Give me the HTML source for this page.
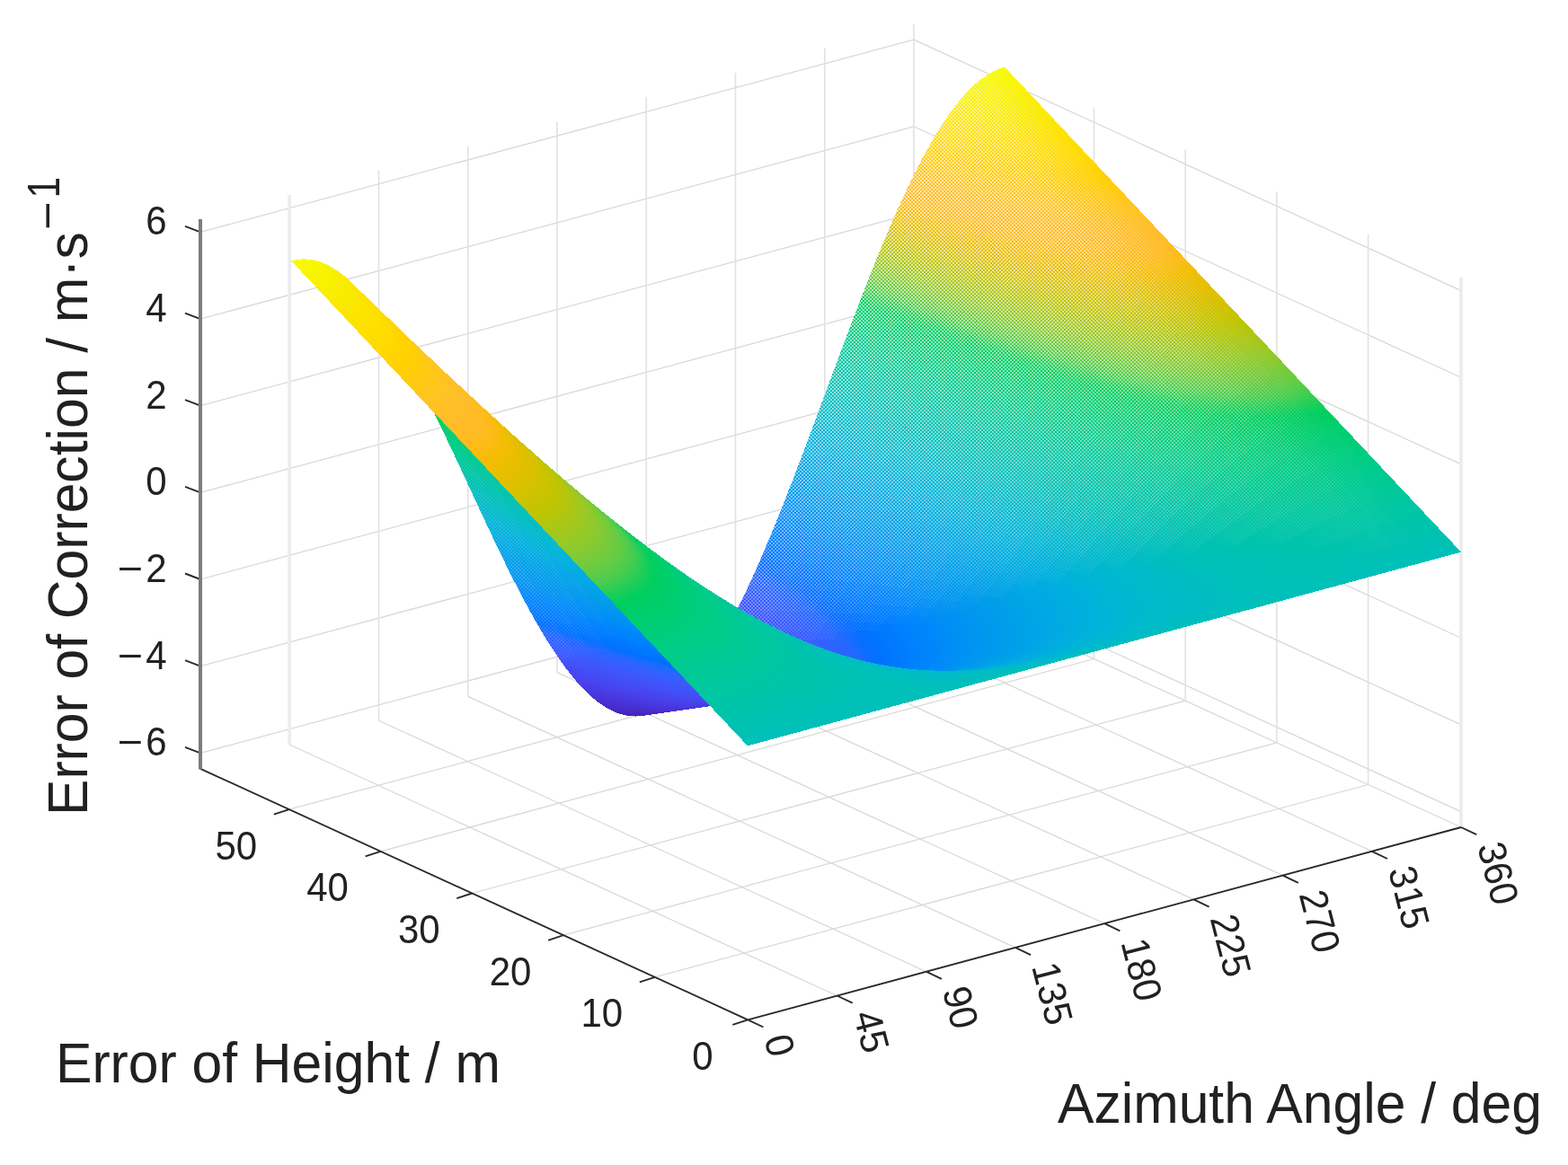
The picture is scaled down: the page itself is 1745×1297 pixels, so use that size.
<!DOCTYPE html><html><head><meta charset="utf-8"><title>Error of Correction</title><style>html,body{margin:0;padding:0;background:#fff;overflow:hidden}svg{display:block}</style></head><body><svg width="1745" height="1297" viewBox="0 0 1745 1297"><rect width="1745" height="1297" fill="#fff"/><path d="M931.5,1108.5L322.2,829.0M1030.7,1081.7L421.5,802.2M1129.9,1054.9L520.8,775.4M1229.2,1028.2L620.0,748.6M1328.4,1001.4L719.2,721.9M1427.6,974.6L818.5,695.1M1526.8,947.8L917.8,668.3M1626.0,921.0L1017.0,641.5M728.8,1087.8L1522.6,873.5M627.1,1041.2L1420.9,826.9M525.3,994.5L1319.2,780.2M423.6,947.8L1217.5,733.5M321.8,901.1L1115.8,686.8M223.0,838.4L1017.0,624.1M223.0,741.7L1017.0,527.4M223.0,645.0L1017.0,430.7M223.0,548.4L1017.0,334.1M223.0,451.7L1017.0,237.4M223.0,355.1L1017.0,140.8M223.0,258.4L1017.0,44.1M1017.0,624.1L1626.0,903.6M1017.0,527.4L1626.0,806.9M1017.0,430.7L1626.0,710.2M1017.0,334.1L1626.0,613.6M1017.0,237.4L1626.0,516.9M1017.0,140.8L1626.0,420.3M1017.0,44.1L1626.0,323.6" fill="none" stroke="#d8d8d8" stroke-width="1.25"/><path d="M421.5,802.2L421.5,189.8M520.8,775.4L520.8,162.6M620.0,748.6L620.0,135.4M719.2,721.9L719.2,108.2M818.5,695.1L818.5,81.1M917.8,668.3L917.8,53.9M1017.0,641.5L1017.0,26.7M1522.6,873.5L1522.6,260.7M1420.9,826.9L1420.9,213.6M1319.2,780.2L1319.2,166.5M1217.5,733.5L1217.5,119.5M1115.8,686.8L1115.8,76.4" fill="none" stroke="#e2e2e2" stroke-width="1.6"/><path d="M322.2,829.0L322.2,216.9M1626.0,921.0L1626.0,308.5" fill="none" stroke="#ececec" stroke-width="3.6"/><defs><linearGradient id="m"><stop offset="0.0000" stop-color="#4321ad"/><stop offset="0.0104" stop-color="#4424b5"/><stop offset="0.0208" stop-color="#4527bd"/><stop offset="0.0312" stop-color="#462ac4"/><stop offset="0.0417" stop-color="#472dcb"/><stop offset="0.0521" stop-color="#4830d3"/><stop offset="0.0625" stop-color="#4833da"/><stop offset="0.0729" stop-color="#4837df"/><stop offset="0.0833" stop-color="#483be5"/><stop offset="0.0938" stop-color="#483fe9"/><stop offset="0.1042" stop-color="#4743ed"/><stop offset="0.1146" stop-color="#4647f1"/><stop offset="0.1250" stop-color="#444bf4"/><stop offset="0.1354" stop-color="#424ff7"/><stop offset="0.1458" stop-color="#4053f9"/><stop offset="0.1562" stop-color="#3e56fc"/><stop offset="0.1667" stop-color="#3a5afe"/><stop offset="0.1771" stop-color="#365eff"/><stop offset="0.1875" stop-color="#3162ff"/><stop offset="0.1979" stop-color="#2966ff"/><stop offset="0.2083" stop-color="#1f6aff"/><stop offset="0.2188" stop-color="#086eff"/><stop offset="0.2292" stop-color="#0072ff"/><stop offset="0.2396" stop-color="#0077ff"/><stop offset="0.2500" stop-color="#007bff"/><stop offset="0.2604" stop-color="#007fff"/><stop offset="0.2708" stop-color="#0083fd"/><stop offset="0.2812" stop-color="#0086fb"/><stop offset="0.2917" stop-color="#008af9"/><stop offset="0.3021" stop-color="#008ef6"/><stop offset="0.3125" stop-color="#0091f3"/><stop offset="0.3229" stop-color="#0095f1"/><stop offset="0.3333" stop-color="#0098ee"/><stop offset="0.3438" stop-color="#009bec"/><stop offset="0.3542" stop-color="#009eea"/><stop offset="0.3646" stop-color="#00a1e8"/><stop offset="0.3750" stop-color="#00a4e6"/><stop offset="0.3854" stop-color="#00a7e5"/><stop offset="0.3958" stop-color="#00aae2"/><stop offset="0.4062" stop-color="#00ade0"/><stop offset="0.4167" stop-color="#00b0dd"/><stop offset="0.4271" stop-color="#00b2d9"/><stop offset="0.4375" stop-color="#00b5d5"/><stop offset="0.4479" stop-color="#00b7d1"/><stop offset="0.4583" stop-color="#00b9cd"/><stop offset="0.4688" stop-color="#00bbc8"/><stop offset="0.4792" stop-color="#00bcc4"/><stop offset="0.4896" stop-color="#00bebf"/><stop offset="0.5000" stop-color="#00c0ba"/><stop offset="0.5104" stop-color="#00c1b5"/><stop offset="0.5208" stop-color="#00c2b1"/><stop offset="0.5312" stop-color="#00c4ab"/><stop offset="0.5417" stop-color="#00c5a6"/><stop offset="0.5521" stop-color="#00c7a1"/><stop offset="0.5625" stop-color="#00c89b"/><stop offset="0.5729" stop-color="#00c995"/><stop offset="0.5833" stop-color="#00cb8e"/><stop offset="0.5938" stop-color="#00cc88"/><stop offset="0.6042" stop-color="#00cd80"/><stop offset="0.6146" stop-color="#00cd79"/><stop offset="0.6250" stop-color="#00ce71"/><stop offset="0.6354" stop-color="#00ce69"/><stop offset="0.6458" stop-color="#00ce60"/><stop offset="0.6562" stop-color="#22ce57"/><stop offset="0.6667" stop-color="#49cd4e"/><stop offset="0.6771" stop-color="#62cc45"/><stop offset="0.6875" stop-color="#76cb3b"/><stop offset="0.6979" stop-color="#88ca30"/><stop offset="0.7083" stop-color="#98c926"/><stop offset="0.7188" stop-color="#a6c71a"/><stop offset="0.7292" stop-color="#b4c60c"/><stop offset="0.7396" stop-color="#c1c400"/><stop offset="0.7500" stop-color="#ccc300"/><stop offset="0.7604" stop-color="#d7c100"/><stop offset="0.7708" stop-color="#e1bf00"/><stop offset="0.7812" stop-color="#ebbe00"/><stop offset="0.7917" stop-color="#f4bd03"/><stop offset="0.8021" stop-color="#fcbc14"/><stop offset="0.8125" stop-color="#ffbb20"/><stop offset="0.8229" stop-color="#ffbc28"/><stop offset="0.8333" stop-color="#ffbd29"/><stop offset="0.8438" stop-color="#ffc027"/><stop offset="0.8542" stop-color="#ffc421"/><stop offset="0.8646" stop-color="#ffc719"/><stop offset="0.8750" stop-color="#ffcb0f"/><stop offset="0.8854" stop-color="#ffcf02"/><stop offset="0.8958" stop-color="#ffd300"/><stop offset="0.9062" stop-color="#ffd800"/><stop offset="0.9167" stop-color="#ffdc00"/><stop offset="0.9271" stop-color="#ffe000"/><stop offset="0.9375" stop-color="#fce400"/><stop offset="0.9479" stop-color="#fae800"/><stop offset="0.9583" stop-color="#f9ec00"/><stop offset="0.9688" stop-color="#f8f000"/><stop offset="0.9792" stop-color="#f8f300"/><stop offset="0.9896" stop-color="#f8f700"/><stop offset="1.0000" stop-color="#f9fb00"/></linearGradient><linearGradient id="g119" href="#m" xlink:href="#m" gradientUnits="userSpaceOnUse" x1="1588.7" y1="1283.0" x2="1295.3" y2="32.8"/><linearGradient id="g118" href="#m" xlink:href="#m" gradientUnits="userSpaceOnUse" x1="1516.4" y1="1261.1" x2="1310.4" y2="42.0"/><linearGradient id="g117" href="#m" xlink:href="#m" gradientUnits="userSpaceOnUse" x1="1454.9" y1="1236.2" x2="1321.9" y2="51.7"/><linearGradient id="g116" href="#m" xlink:href="#m" gradientUnits="userSpaceOnUse" x1="1402.9" y1="1210.2" x2="1330.4" y2="61.4"/><linearGradient id="g115" href="#m" xlink:href="#m" gradientUnits="userSpaceOnUse" x1="1358.7" y1="1184.6" x2="1336.5" y2="70.7"/><linearGradient id="g114" href="#m" xlink:href="#m" gradientUnits="userSpaceOnUse" x1="1320.9" y1="1160.0" x2="1340.8" y2="79.5"/><linearGradient id="g113" href="#m" xlink:href="#m" gradientUnits="userSpaceOnUse" x1="1288.5" y1="1136.9" x2="1343.6" y2="87.7"/><linearGradient id="g112" href="#m" xlink:href="#m" gradientUnits="userSpaceOnUse" x1="1260.3" y1="1115.4" x2="1345.2" y2="95.2"/><linearGradient id="g111" href="#m" xlink:href="#m" gradientUnits="userSpaceOnUse" x1="1235.7" y1="1095.6" x2="1346.0" y2="102.2"/><linearGradient id="g110" href="#m" xlink:href="#m" gradientUnits="userSpaceOnUse" x1="1214.0" y1="1077.5" x2="1346.2" y2="108.6"/><linearGradient id="g109" href="#m" xlink:href="#m" gradientUnits="userSpaceOnUse" x1="1194.7" y1="1060.9" x2="1345.9" y2="114.6"/><linearGradient id="g108" href="#m" xlink:href="#m" gradientUnits="userSpaceOnUse" x1="1177.3" y1="1045.8" x2="1345.3" y2="120.0"/><linearGradient id="g107" href="#m" xlink:href="#m" gradientUnits="userSpaceOnUse" x1="1161.6" y1="1032.0" x2="1344.4" y2="125.1"/><linearGradient id="g106" href="#m" xlink:href="#m" gradientUnits="userSpaceOnUse" x1="1147.3" y1="1019.4" x2="1343.5" y2="129.9"/><linearGradient id="g105" href="#m" xlink:href="#m" gradientUnits="userSpaceOnUse" x1="1134.2" y1="1007.9" x2="1342.4" y2="134.3"/><linearGradient id="g104" href="#m" xlink:href="#m" gradientUnits="userSpaceOnUse" x1="1122.1" y1="997.5" x2="1341.3" y2="138.5"/><linearGradient id="g103" href="#m" xlink:href="#m" gradientUnits="userSpaceOnUse" x1="1110.9" y1="988.0" x2="1340.3" y2="142.4"/><linearGradient id="g102" href="#m" xlink:href="#m" gradientUnits="userSpaceOnUse" x1="1100.4" y1="979.4" x2="1339.3" y2="146.2"/><linearGradient id="g101" href="#m" xlink:href="#m" gradientUnits="userSpaceOnUse" x1="1090.5" y1="971.6" x2="1338.4" y2="149.7"/><linearGradient id="g100" href="#m" xlink:href="#m" gradientUnits="userSpaceOnUse" x1="1081.3" y1="964.4" x2="1337.7" y2="153.1"/><linearGradient id="g99" href="#m" xlink:href="#m" gradientUnits="userSpaceOnUse" x1="1072.5" y1="958.0" x2="1337.1" y2="156.4"/><linearGradient id="g98" href="#m" xlink:href="#m" gradientUnits="userSpaceOnUse" x1="1064.1" y1="952.1" x2="1336.7" y2="159.5"/><linearGradient id="g97" href="#m" xlink:href="#m" gradientUnits="userSpaceOnUse" x1="1056.1" y1="946.8" x2="1336.5" y2="162.5"/><linearGradient id="g96" href="#m" xlink:href="#m" gradientUnits="userSpaceOnUse" x1="1048.5" y1="942.1" x2="1336.5" y2="165.4"/><linearGradient id="g95" href="#m" xlink:href="#m" gradientUnits="userSpaceOnUse" x1="1041.1" y1="937.8" x2="1336.7" y2="168.2"/><linearGradient id="g94" href="#m" xlink:href="#m" gradientUnits="userSpaceOnUse" x1="1033.9" y1="933.9" x2="1337.2" y2="171.0"/><linearGradient id="g93" href="#m" xlink:href="#m" gradientUnits="userSpaceOnUse" x1="1027.0" y1="930.5" x2="1338.0" y2="173.6"/><linearGradient id="g92" href="#m" xlink:href="#m" gradientUnits="userSpaceOnUse" x1="1020.2" y1="927.4" x2="1339.1" y2="176.2"/><linearGradient id="g91" href="#m" xlink:href="#m" gradientUnits="userSpaceOnUse" x1="1013.5" y1="924.7" x2="1340.5" y2="178.7"/><linearGradient id="g90" href="#m" xlink:href="#m" gradientUnits="userSpaceOnUse" x1="1007.0" y1="922.3" x2="1342.3" y2="181.1"/><linearGradient id="g89" href="#m" xlink:href="#m" gradientUnits="userSpaceOnUse" x1="1000.4" y1="920.3" x2="1344.5" y2="183.5"/><linearGradient id="g88" href="#m" xlink:href="#m" gradientUnits="userSpaceOnUse" x1="993.9" y1="918.5" x2="1347.1" y2="185.8"/><linearGradient id="g87" href="#m" xlink:href="#m" gradientUnits="userSpaceOnUse" x1="987.4" y1="917.0" x2="1350.2" y2="188.0"/><linearGradient id="g86" href="#m" xlink:href="#m" gradientUnits="userSpaceOnUse" x1="980.8" y1="915.7" x2="1353.8" y2="190.2"/><linearGradient id="g85" href="#m" xlink:href="#m" gradientUnits="userSpaceOnUse" x1="974.1" y1="914.7" x2="1358.1" y2="192.3"/><linearGradient id="g84" href="#m" xlink:href="#m" gradientUnits="userSpaceOnUse" x1="967.3" y1="913.9" x2="1363.1" y2="194.4"/><linearGradient id="g83" href="#m" xlink:href="#m" gradientUnits="userSpaceOnUse" x1="960.3" y1="913.2" x2="1368.9" y2="196.5"/><linearGradient id="g82" href="#m" xlink:href="#m" gradientUnits="userSpaceOnUse" x1="953.0" y1="912.7" x2="1375.7" y2="198.5"/><linearGradient id="g81" href="#m" xlink:href="#m" gradientUnits="userSpaceOnUse" x1="945.3" y1="912.4" x2="1383.5" y2="200.6"/><linearGradient id="g80" href="#m" xlink:href="#m" gradientUnits="userSpaceOnUse" x1="937.3" y1="912.1" x2="1392.6" y2="202.8"/><linearGradient id="g79" href="#m" xlink:href="#m" gradientUnits="userSpaceOnUse" x1="928.7" y1="911.8" x2="1403.3" y2="205.1"/><linearGradient id="g78" href="#m" xlink:href="#m" gradientUnits="userSpaceOnUse" x1="919.5" y1="911.6" x2="1415.9" y2="207.7"/><linearGradient id="g77" href="#m" xlink:href="#m" gradientUnits="userSpaceOnUse" x1="909.5" y1="911.2" x2="1430.7" y2="210.8"/><linearGradient id="g76" href="#m" xlink:href="#m" gradientUnits="userSpaceOnUse" x1="898.6" y1="910.6" x2="1448.3" y2="214.7"/><linearGradient id="g75" href="#m" xlink:href="#m" gradientUnits="userSpaceOnUse" x1="886.4" y1="909.6" x2="1469.2" y2="219.9"/><linearGradient id="g74" href="#m" xlink:href="#m" gradientUnits="userSpaceOnUse" x1="872.9" y1="907.9" x2="1494.4" y2="227.0"/><linearGradient id="g73" href="#m" xlink:href="#m" gradientUnits="userSpaceOnUse" x1="857.5" y1="905.0" x2="1524.8" y2="237.3"/><linearGradient id="g72" href="#m" xlink:href="#m" gradientUnits="userSpaceOnUse" x1="840.0" y1="900.3" x2="1561.6" y2="252.6"/><linearGradient id="g71" href="#m" xlink:href="#m" gradientUnits="userSpaceOnUse" x1="820.0" y1="892.7" x2="1606.0" y2="276.1"/><linearGradient id="g70" href="#m" xlink:href="#m" gradientUnits="userSpaceOnUse" x1="797.4" y1="880.3" x2="1658.7" y2="313.0"/><linearGradient id="g69" href="#m" xlink:href="#m" gradientUnits="userSpaceOnUse" x1="772.8" y1="860.6" x2="1718.2" y2="371.2"/><linearGradient id="g68" href="#m" xlink:href="#m" gradientUnits="userSpaceOnUse" x1="748.9" y1="829.6" x2="1777.9" y2="462.3"/><linearGradient id="g67" href="#m" xlink:href="#m" gradientUnits="userSpaceOnUse" x1="732.2" y1="783.9" x2="1818.9" y2="598.0"/><linearGradient id="g66" href="#m" xlink:href="#m" gradientUnits="userSpaceOnUse" x1="735.1" y1="725.2" x2="1805.2" y2="775.8"/><linearGradient id="g65" href="#m" xlink:href="#m" gradientUnits="userSpaceOnUse" x1="768.7" y1="667.9" x2="1700.7" y2="955.8"/><linearGradient id="g64" href="#m" xlink:href="#m" gradientUnits="userSpaceOnUse" x1="827.8" y1="635.3" x2="1516.4" y2="1068.9"/><linearGradient id="g63" href="#m" xlink:href="#m" gradientUnits="userSpaceOnUse" x1="888.5" y1="637.0" x2="1319.7" y2="1082.2"/><linearGradient id="g62" href="#m" xlink:href="#m" gradientUnits="userSpaceOnUse" x1="932.1" y1="660.9" x2="1167.9" y2="1027.0"/><linearGradient id="g61" href="#m" xlink:href="#m" gradientUnits="userSpaceOnUse" x1="956.0" y1="691.0" x2="1071.4" y2="949.7"/><linearGradient id="g60" href="#m" xlink:href="#m" gradientUnits="userSpaceOnUse" x1="965.5" y1="717.8" x2="1016.6" y2="878.7"/><linearGradient id="g59" href="#m" xlink:href="#m" gradientUnits="userSpaceOnUse" x1="965.9" y1="736.1" x2="988.9" y2="831.1"/><linearGradient id="g58" href="#m" xlink:href="#m" gradientUnits="userSpaceOnUse" x1="951.6" y1="719.4" x2="1005.3" y2="886.1"/><linearGradient id="g57" href="#m" xlink:href="#m" gradientUnits="userSpaceOnUse" x1="951.3" y1="826.3" x2="979.8" y2="572.2"/><linearGradient id="g56" href="#m" xlink:href="#m" gradientUnits="userSpaceOnUse" x1="948.2" y1="815.7" x2="962.5" y2="607.4"/><linearGradient id="g55" href="#m" xlink:href="#m" gradientUnits="userSpaceOnUse" x1="940.0" y1="820.7" x2="960.2" y2="595.8"/><linearGradient id="g54" href="#m" xlink:href="#m" gradientUnits="userSpaceOnUse" x1="931.1" y1="826.7" x2="959.8" y2="580.5"/><linearGradient id="g53" href="#m" xlink:href="#m" gradientUnits="userSpaceOnUse" x1="922.0" y1="832.3" x2="959.9" y2="566.2"/><linearGradient id="g52" href="#m" xlink:href="#m" gradientUnits="userSpaceOnUse" x1="912.6" y1="837.1" x2="960.0" y2="553.7"/><linearGradient id="g51" href="#m" xlink:href="#m" gradientUnits="userSpaceOnUse" x1="903.3" y1="841.2" x2="959.7" y2="543.0"/><linearGradient id="g50" href="#m" xlink:href="#m" gradientUnits="userSpaceOnUse" x1="893.9" y1="844.6" x2="959.1" y2="533.9"/><linearGradient id="g49" href="#m" xlink:href="#m" gradientUnits="userSpaceOnUse" x1="884.4" y1="847.5" x2="958.0" y2="526.2"/><linearGradient id="g48" href="#m" xlink:href="#m" gradientUnits="userSpaceOnUse" x1="875.0" y1="849.8" x2="956.3" y2="519.6"/><linearGradient id="g47" href="#m" xlink:href="#m" gradientUnits="userSpaceOnUse" x1="865.5" y1="851.7" x2="954.3" y2="514.0"/><linearGradient id="g46" href="#m" xlink:href="#m" gradientUnits="userSpaceOnUse" x1="856.0" y1="853.2" x2="951.7" y2="509.2"/><linearGradient id="g45" href="#m" xlink:href="#m" gradientUnits="userSpaceOnUse" x1="846.5" y1="854.3" x2="948.7" y2="505.0"/><linearGradient id="g44" href="#m" xlink:href="#m" gradientUnits="userSpaceOnUse" x1="836.9" y1="855.1" x2="945.3" y2="501.4"/><linearGradient id="g43" href="#m" xlink:href="#m" gradientUnits="userSpaceOnUse" x1="827.3" y1="855.6" x2="941.4" y2="498.3"/><linearGradient id="g42" href="#m" xlink:href="#m" gradientUnits="userSpaceOnUse" x1="817.6" y1="855.9" x2="937.2" y2="495.5"/><linearGradient id="g41" href="#m" xlink:href="#m" gradientUnits="userSpaceOnUse" x1="807.9" y1="855.8" x2="932.6" y2="493.1"/><linearGradient id="g40" href="#m" xlink:href="#m" gradientUnits="userSpaceOnUse" x1="798.1" y1="855.6" x2="927.7" y2="491.0"/><linearGradient id="g39" href="#m" xlink:href="#m" gradientUnits="userSpaceOnUse" x1="788.3" y1="855.1" x2="922.5" y2="489.0"/><linearGradient id="g38" href="#m" xlink:href="#m" gradientUnits="userSpaceOnUse" x1="778.3" y1="854.5" x2="917.0" y2="487.3"/><linearGradient id="g37" href="#m" xlink:href="#m" gradientUnits="userSpaceOnUse" x1="768.4" y1="853.7" x2="911.2" y2="485.6"/><linearGradient id="g36" href="#m" xlink:href="#m" gradientUnits="userSpaceOnUse" x1="758.3" y1="852.7" x2="905.2" y2="484.1"/><linearGradient id="g35" href="#m" xlink:href="#m" gradientUnits="userSpaceOnUse" x1="748.2" y1="851.7" x2="899.0" y2="482.6"/><linearGradient id="g34" href="#m" xlink:href="#m" gradientUnits="userSpaceOnUse" x1="738.0" y1="850.5" x2="892.5" y2="481.2"/><linearGradient id="g33" href="#m" xlink:href="#m" gradientUnits="userSpaceOnUse" x1="727.8" y1="849.3" x2="885.9" y2="479.8"/><linearGradient id="g32" href="#m" xlink:href="#m" gradientUnits="userSpaceOnUse" x1="717.5" y1="848.0" x2="879.2" y2="478.3"/><linearGradient id="g31" href="#m" xlink:href="#m" gradientUnits="userSpaceOnUse" x1="707.0" y1="846.8" x2="872.3" y2="476.7"/><linearGradient id="g30" href="#m" xlink:href="#m" gradientUnits="userSpaceOnUse" x1="696.5" y1="845.8" x2="865.3" y2="475.0"/><linearGradient id="g29" href="#m" xlink:href="#m" gradientUnits="userSpaceOnUse" x1="685.9" y1="844.9" x2="858.3" y2="473.1"/><linearGradient id="g28" href="#m" xlink:href="#m" gradientUnits="userSpaceOnUse" x1="675.1" y1="844.4" x2="851.2" y2="471.0"/><linearGradient id="g27" href="#m" xlink:href="#m" gradientUnits="userSpaceOnUse" x1="664.1" y1="844.4" x2="844.1" y2="468.5"/><linearGradient id="g26" href="#m" xlink:href="#m" gradientUnits="userSpaceOnUse" x1="652.8" y1="845.1" x2="837.0" y2="465.6"/><linearGradient id="g25" href="#m" xlink:href="#m" gradientUnits="userSpaceOnUse" x1="641.3" y1="846.9" x2="830.1" y2="462.1"/><linearGradient id="g24" href="#m" xlink:href="#m" gradientUnits="userSpaceOnUse" x1="629.3" y1="850.1" x2="823.3" y2="457.7"/><linearGradient id="g23" href="#m" xlink:href="#m" gradientUnits="userSpaceOnUse" x1="616.8" y1="855.5" x2="816.8" y2="452.3"/><linearGradient id="g22" href="#m" xlink:href="#m" gradientUnits="userSpaceOnUse" x1="603.6" y1="863.9" x2="810.5" y2="445.3"/><linearGradient id="g21" href="#m" xlink:href="#m" gradientUnits="userSpaceOnUse" x1="589.6" y1="876.6" x2="804.6" y2="436.2"/><linearGradient id="g20" href="#m" xlink:href="#m" gradientUnits="userSpaceOnUse" x1="574.6" y1="895.8" x2="799.1" y2="424.0"/><linearGradient id="g19" href="#m" xlink:href="#m" gradientUnits="userSpaceOnUse" x1="558.9" y1="924.7" x2="793.8" y2="407.4"/><linearGradient id="g18" href="#m" xlink:href="#m" gradientUnits="userSpaceOnUse" x1="543.5" y1="968.2" x2="788.0" y2="384.3"/><linearGradient id="g17" href="#m" xlink:href="#m" gradientUnits="userSpaceOnUse" x1="531.8" y1="1034.4" x2="780.2" y2="351.2"/><linearGradient id="g16" href="#m" xlink:href="#m" gradientUnits="userSpaceOnUse" x1="533.7" y1="1135.0" x2="765.4" y2="303.8"/><linearGradient id="g15" href="#m" xlink:href="#m" gradientUnits="userSpaceOnUse" x1="574.4" y1="1282.0" x2="732.4" y2="237.9"/><linearGradient id="g14" href="#m" xlink:href="#m" gradientUnits="userSpaceOnUse" x1="706.0" y1="1465.8" x2="659.0" y2="160.3"/><linearGradient id="g13" href="#m" xlink:href="#m" gradientUnits="userSpaceOnUse" x1="975.9" y1="1603.3" x2="528.8" y2="110.0"/><linearGradient id="g12" href="#m" xlink:href="#m" gradientUnits="userSpaceOnUse" x1="1301.5" y1="1570.9" x2="383.8" y2="136.9"/><linearGradient id="g11" href="#m" xlink:href="#m" gradientUnits="userSpaceOnUse" x1="1513.5" y1="1410.8" x2="296.2" y2="215.1"/><linearGradient id="g10" href="#m" xlink:href="#m" gradientUnits="userSpaceOnUse" x1="1590.3" y1="1267.2" x2="268.2" y2="281.2"/><linearGradient id="g9" href="#m" xlink:href="#m" gradientUnits="userSpaceOnUse" x1="1598.5" y1="1196.1" x2="267.8" y2="314.8"/><linearGradient id="g8" href="#m" xlink:href="#m" gradientUnits="userSpaceOnUse" x1="1578.2" y1="1190.0" x2="277.3" y2="321.8"/><linearGradient id="g7" href="#m" xlink:href="#m" gradientUnits="userSpaceOnUse" x1="1539.7" y1="1229.1" x2="291.9" y2="311.7"/><linearGradient id="g6" href="#m" xlink:href="#m" gradientUnits="userSpaceOnUse" x1="1481.6" y1="1294.2" x2="311.7" y2="292.7"/><linearGradient id="g5" href="#m" xlink:href="#m" gradientUnits="userSpaceOnUse" x1="1401.9" y1="1367.2" x2="337.2" y2="271.5"/><linearGradient id="g4" href="#m" xlink:href="#m" gradientUnits="userSpaceOnUse" x1="1303.6" y1="1433.2" x2="367.2" y2="253.3"/><linearGradient id="g3" href="#m" xlink:href="#m" gradientUnits="userSpaceOnUse" x1="1193.9" y1="1482.2" x2="399.1" y2="241.1"/><linearGradient id="g2" href="#m" xlink:href="#m" gradientUnits="userSpaceOnUse" x1="1082.0" y1="1510.7" x2="430.2" y2="235.6"/><linearGradient id="g1" href="#m" xlink:href="#m" gradientUnits="userSpaceOnUse" x1="975.5" y1="1520.1" x2="458.2" y2="236.1"/><linearGradient id="g0" href="#m" xlink:href="#m" gradientUnits="userSpaceOnUse" x1="879.1" y1="1514.6" x2="482.0" y2="241.0"/><pattern id="h1" width="4" height="4" patternUnits="userSpaceOnUse"><path d="M0,0h2v2h-2zM2,2h2v2h-2z" fill="#fff" fill-opacity="0.025"/></pattern><pattern id="h2" width="4" height="4" patternUnits="userSpaceOnUse"><path d="M0,0h2v2h-2zM2,2h2v2h-2z" fill="#fff" fill-opacity="0.050"/></pattern><pattern id="h3" width="4" height="4" patternUnits="userSpaceOnUse"><path d="M0,0h2v2h-2zM2,2h2v2h-2z" fill="#fff" fill-opacity="0.075"/></pattern><pattern id="h4" width="4" height="4" patternUnits="userSpaceOnUse"><path d="M0,0h2v2h-2zM2,2h2v2h-2z" fill="#fff" fill-opacity="0.100"/></pattern><pattern id="h5" width="4" height="4" patternUnits="userSpaceOnUse"><path d="M0,0h2v2h-2zM2,2h2v2h-2z" fill="#fff" fill-opacity="0.125"/></pattern><pattern id="h6" width="4" height="4" patternUnits="userSpaceOnUse"><path d="M0,0h2v2h-2zM2,2h2v2h-2z" fill="#fff" fill-opacity="0.150"/></pattern><pattern id="h7" width="4" height="4" patternUnits="userSpaceOnUse"><path d="M0,0h2v2h-2zM2,2h2v2h-2z" fill="#fff" fill-opacity="0.175"/></pattern><pattern id="h8" width="4" height="4" patternUnits="userSpaceOnUse"><path d="M0,0h2v2h-2zM2,2h2v2h-2z" fill="#fff" fill-opacity="0.200"/></pattern><pattern id="h9" width="4" height="4" patternUnits="userSpaceOnUse"><path d="M0,0h2v2h-2zM2,2h2v2h-2z" fill="#fff" fill-opacity="0.225"/></pattern><pattern id="h10" width="4" height="4" patternUnits="userSpaceOnUse"><path d="M0,0h2v2h-2zM2,2h2v2h-2z" fill="#fff" fill-opacity="0.250"/></pattern><pattern id="h11" width="4" height="4" patternUnits="userSpaceOnUse"><path d="M0,0h2v2h-2zM2,2h2v2h-2z" fill="#fff" fill-opacity="0.275"/></pattern><pattern id="h12" width="4" height="4" patternUnits="userSpaceOnUse"><path d="M0,0h2v2h-2zM2,2h2v2h-2z" fill="#fff" fill-opacity="0.300"/></pattern><pattern id="h13" width="4" height="4" patternUnits="userSpaceOnUse"><path d="M0,0h2v2h-2zM2,2h2v2h-2z" fill="#fff" fill-opacity="0.325"/></pattern><pattern id="h14" width="4" height="4" patternUnits="userSpaceOnUse"><path d="M0,0h2v2h-2zM2,2h2v2h-2z" fill="#fff" fill-opacity="0.350"/></pattern><pattern id="h15" width="4" height="4" patternUnits="userSpaceOnUse"><path d="M0,0h2v2h-2zM2,2h2v2h-2z" fill="#fff" fill-opacity="0.375"/></pattern><pattern id="h16" width="4" height="4" patternUnits="userSpaceOnUse"><path d="M0,0h2v2h-2zM2,2h2v2h-2z" fill="#fff" fill-opacity="0.400"/></pattern><pattern id="h17" width="4" height="4" patternUnits="userSpaceOnUse"><path d="M0,0h2v2h-2zM2,2h2v2h-2z" fill="#fff" fill-opacity="0.425"/></pattern><pattern id="h18" width="4" height="4" patternUnits="userSpaceOnUse"><path d="M0,0h2v2h-2zM2,2h2v2h-2z" fill="#fff" fill-opacity="0.450"/></pattern><pattern id="h19" width="4" height="4" patternUnits="userSpaceOnUse"><path d="M0,0h2v2h-2zM2,2h2v2h-2z" fill="#fff" fill-opacity="0.475"/></pattern><pattern id="h20" width="4" height="4" patternUnits="userSpaceOnUse"><path d="M0,0h2v2h-2zM2,2h2v2h-2z" fill="#fff" fill-opacity="0.500"/></pattern><pattern id="h21" width="4" height="4" patternUnits="userSpaceOnUse"><path d="M0,0h2v2h-2zM2,2h2v2h-2z" fill="#fff" fill-opacity="0.525"/></pattern><pattern id="h22" width="4" height="4" patternUnits="userSpaceOnUse"><path d="M0,0h2v2h-2zM2,2h2v2h-2z" fill="#fff" fill-opacity="0.550"/></pattern><pattern id="h23" width="4" height="4" patternUnits="userSpaceOnUse"><path d="M0,0h2v2h-2zM2,2h2v2h-2z" fill="#fff" fill-opacity="0.575"/></pattern><pattern id="h24" width="4" height="4" patternUnits="userSpaceOnUse"><path d="M0,0h2v2h-2zM2,2h2v2h-2z" fill="#fff" fill-opacity="0.600"/></pattern><pattern id="h25" width="4" height="4" patternUnits="userSpaceOnUse"><path d="M0,0h2v2h-2zM2,2h2v2h-2z" fill="#fff" fill-opacity="0.625"/></pattern></defs><g shape-rendering="crispEdges"><path d="M1619.38,616.40L1626.00,614.60L1118.00,74.50L1111.38,76.72Z" fill="url(#g119)"/><path d="M1323.05,301.59L1329.67,299.54L1118.00,74.50L1111.38,76.72Z" fill="url(#h1)"/><path d="M1612.77,618.20L1619.38,616.40L1111.38,76.72L1104.77,79.78Z" fill="url(#g118)"/><path d="M1506.93,506.03L1513.55,503.97L1428.88,414.02L1422.27,416.29Z" fill="url(#h1)"/><path d="M1422.27,416.29L1428.88,414.02L1344.22,324.07L1337.60,326.55Z" fill="url(#h2)"/><path d="M1337.60,326.55L1344.22,324.07L1238.38,211.64L1231.77,214.38Z" fill="url(#h3)"/><path d="M1231.77,214.38L1238.38,211.64L1153.72,121.69L1147.10,124.64Z" fill="url(#h4)"/><path d="M1147.10,124.64L1153.72,121.69L1111.38,76.72L1104.77,79.78Z" fill="url(#h5)"/><path d="M1606.15,620.00L1612.77,618.20L1104.77,79.78L1098.15,83.67Z" fill="url(#g117)"/><path d="M1542.65,552.95L1549.27,550.89L1506.93,506.03L1500.32,508.26Z" fill="url(#h1)"/><path d="M1500.32,508.26L1506.93,506.03L1443.43,438.72L1436.82,441.22Z" fill="url(#h2)"/><path d="M1436.82,441.22L1443.43,438.72L1401.10,393.85L1394.48,396.53Z" fill="url(#h3)"/><path d="M1394.48,396.53L1401.10,393.85L1337.60,326.55L1330.98,329.49Z" fill="url(#h4)"/><path d="M1330.98,329.49L1337.60,326.55L1274.10,259.25L1267.48,262.44Z" fill="url(#h5)"/><path d="M1267.48,262.44L1274.10,259.25L1231.77,214.38L1225.15,217.75Z" fill="url(#h6)"/><path d="M1225.15,217.75L1231.77,214.38L1168.27,147.08L1161.65,150.71Z" fill="url(#h7)"/><path d="M1161.65,150.71L1168.27,147.08L1104.77,79.78L1098.15,83.67Z" fill="url(#h8)"/><path d="M1599.53,621.79L1606.15,620.00L1098.15,83.67L1091.53,88.39Z" fill="url(#g116)"/><path d="M1557.20,577.34L1563.82,575.30L1521.48,530.61L1514.87,532.89Z" fill="url(#h1)"/><path d="M1514.87,532.89L1521.48,530.61L1479.15,485.91L1472.53,488.44Z" fill="url(#h2)"/><path d="M1472.53,488.44L1479.15,485.91L1457.98,463.57L1451.37,466.22Z" fill="url(#h3)"/><path d="M1451.37,466.22L1457.98,463.57L1415.65,418.87L1409.03,421.77Z" fill="url(#h4)"/><path d="M1409.03,421.77L1415.65,418.87L1373.32,374.18L1366.70,377.32Z" fill="url(#h5)"/><path d="M1366.70,377.32L1373.32,374.18L1330.98,329.49L1324.37,332.87Z" fill="url(#h6)"/><path d="M1324.37,332.87L1330.98,329.49L1288.65,284.79L1282.03,288.42Z" fill="url(#h7)"/><path d="M1282.03,288.42L1288.65,284.79L1246.32,240.10L1239.70,243.97Z" fill="url(#h8)"/><path d="M1239.70,243.97L1246.32,240.10L1203.98,195.40L1197.37,199.52Z" fill="url(#h9)"/><path d="M1197.37,199.52L1203.98,195.40L1161.65,150.71L1155.03,155.07Z" fill="url(#h10)"/><path d="M1155.03,155.07L1161.65,150.71L1119.32,106.02L1112.70,110.62Z" fill="url(#h11)"/><path d="M1112.70,110.62L1119.32,106.02L1098.15,83.67L1091.53,88.39Z" fill="url(#h12)"/><path d="M1592.92,623.59L1599.53,621.79L1091.53,88.39L1084.92,93.94Z" fill="url(#g115)"/><path d="M1550.58,579.45L1557.20,577.34L1536.03,555.12L1529.42,557.39Z" fill="url(#h1)"/><path d="M1529.42,557.39L1536.03,555.12L1514.87,532.89L1508.25,535.32Z" fill="url(#h2)"/><path d="M1508.25,535.32L1514.87,532.89L1472.53,488.44L1465.92,491.18Z" fill="url(#h3)"/><path d="M1465.92,491.18L1472.53,488.44L1451.37,466.22L1444.75,469.11Z" fill="url(#h4)"/><path d="M1444.75,469.11L1451.37,466.22L1409.03,421.77L1402.42,424.97Z" fill="url(#h5)"/><path d="M1402.42,424.97L1409.03,421.77L1387.87,399.54L1381.25,402.90Z" fill="url(#h6)"/><path d="M1381.25,402.90L1387.87,399.54L1345.53,355.09L1338.92,358.77Z" fill="url(#h7)"/><path d="M1338.92,358.77L1345.53,355.09L1324.37,332.87L1317.75,336.70Z" fill="url(#h8)"/><path d="M1317.75,336.70L1324.37,332.87L1282.03,288.42L1275.42,292.56Z" fill="url(#h9)"/><path d="M1275.42,292.56L1282.03,288.42L1260.87,266.19L1254.25,270.49Z" fill="url(#h10)"/><path d="M1254.25,270.49L1260.87,266.19L1218.53,221.74L1211.92,226.35Z" fill="url(#h11)"/><path d="M1211.92,226.35L1218.53,221.74L1176.20,177.29L1169.58,182.21Z" fill="url(#h12)"/><path d="M1169.58,182.21L1176.20,177.29L1133.87,132.84L1127.25,138.08Z" fill="url(#h13)"/><path d="M1127.25,138.08L1133.87,132.84L1091.53,88.39L1084.92,93.94Z" fill="url(#h14)"/><path d="M1586.30,625.39L1592.92,623.59L1084.92,93.94L1078.30,100.30Z" fill="url(#g114)"/><path d="M1565.13,603.51L1571.75,601.52L1550.58,579.45L1543.97,581.63Z" fill="url(#h1)"/><path d="M1543.97,581.63L1550.58,579.45L1529.42,557.39L1522.80,559.75Z" fill="url(#h2)"/><path d="M1522.80,559.75L1529.42,557.39L1487.08,513.25L1480.47,516.00Z" fill="url(#h3)"/><path d="M1480.47,516.00L1487.08,513.25L1465.92,491.18L1459.30,494.12Z" fill="url(#h4)"/><path d="M1459.30,494.12L1465.92,491.18L1444.75,469.11L1438.13,472.24Z" fill="url(#h5)"/><path d="M1438.13,472.24L1444.75,469.11L1423.58,447.04L1416.97,450.36Z" fill="url(#h6)"/><path d="M1416.97,450.36L1423.58,447.04L1402.42,424.97L1395.80,428.48Z" fill="url(#h7)"/><path d="M1395.80,428.48L1402.42,424.97L1360.08,380.83L1353.47,384.72Z" fill="url(#h8)"/><path d="M1353.47,384.72L1360.08,380.83L1338.92,358.77L1332.30,362.84Z" fill="url(#h9)"/><path d="M1332.30,362.84L1338.92,358.77L1317.75,336.70L1311.13,340.96Z" fill="url(#h10)"/><path d="M1311.13,340.96L1317.75,336.70L1275.42,292.56L1268.80,297.21Z" fill="url(#h11)"/><path d="M1268.80,297.21L1275.42,292.56L1254.25,270.49L1247.63,275.33Z" fill="url(#h12)"/><path d="M1247.63,275.33L1254.25,270.49L1211.92,226.35L1205.30,231.57Z" fill="url(#h13)"/><path d="M1205.30,231.57L1211.92,226.35L1190.75,204.28L1184.13,209.69Z" fill="url(#h14)"/><path d="M1184.13,209.69L1190.75,204.28L1148.42,160.15L1141.80,165.93Z" fill="url(#h15)"/><path d="M1141.80,165.93L1148.42,160.15L1127.25,138.08L1120.63,144.05Z" fill="url(#h16)"/><path d="M1120.63,144.05L1127.25,138.08L1084.92,93.94L1078.30,100.30Z" fill="url(#h17)"/><path d="M1579.68,627.19L1586.30,625.39L1078.30,100.30L1071.68,107.45Z" fill="url(#g113)"/><path d="M1558.52,605.53L1565.13,603.51L1543.97,581.63L1537.35,583.88Z" fill="url(#h1)"/><path d="M1537.35,583.88L1543.97,581.63L1522.80,559.75L1516.18,562.22Z" fill="url(#h2)"/><path d="M1516.18,562.22L1522.80,559.75L1501.63,537.87L1495.02,540.57Z" fill="url(#h3)"/><path d="M1495.02,540.57L1501.63,537.87L1480.47,516.00L1473.85,518.91Z" fill="url(#h4)"/><path d="M1473.85,518.91L1480.47,516.00L1459.30,494.12L1452.68,497.25Z" fill="url(#h5)"/><path d="M1452.68,497.25L1459.30,494.12L1438.13,472.24L1431.52,475.60Z" fill="url(#h6)"/><path d="M1431.52,475.60L1438.13,472.24L1416.97,450.36L1410.35,453.94Z" fill="url(#h7)"/><path d="M1410.35,453.94L1416.97,450.36L1395.80,428.48L1389.18,432.29Z" fill="url(#h8)"/><path d="M1389.18,432.29L1395.80,428.48L1374.63,406.60L1368.02,410.63Z" fill="url(#h9)"/><path d="M1368.02,410.63L1374.63,406.60L1353.47,384.72L1346.85,388.98Z" fill="url(#h10)"/><path d="M1346.85,388.98L1353.47,384.72L1332.30,362.84L1325.68,367.32Z" fill="url(#h11)"/><path d="M1325.68,367.32L1332.30,362.84L1289.97,319.09L1283.35,324.01Z" fill="url(#h12)"/><path d="M1283.35,324.01L1289.97,319.09L1268.80,297.21L1262.18,302.35Z" fill="url(#h13)"/><path d="M1262.18,302.35L1268.80,297.21L1247.63,275.33L1241.02,280.70Z" fill="url(#h14)"/><path d="M1241.02,280.70L1247.63,275.33L1205.30,231.57L1198.68,237.39Z" fill="url(#h15)"/><path d="M1198.68,237.39L1205.30,231.57L1184.13,209.69L1177.52,215.73Z" fill="url(#h16)"/><path d="M1177.52,215.73L1184.13,209.69L1162.97,187.81L1156.35,194.08Z" fill="url(#h17)"/><path d="M1156.35,194.08L1162.97,187.81L1120.63,144.05L1114.02,150.76Z" fill="url(#h18)"/><path d="M1114.02,150.76L1120.63,144.05L1078.30,100.30L1071.68,107.45Z" fill="url(#h19)"/><path d="M1573.07,628.99L1579.68,627.19L1071.68,107.45L1065.07,115.39Z" fill="url(#g112)"/><path d="M1551.90,607.59L1558.52,605.53L1537.35,583.88L1530.73,586.19Z" fill="url(#h1)"/><path d="M1530.73,586.19L1537.35,583.88L1516.18,562.22L1509.57,564.79Z" fill="url(#h3)"/><path d="M1509.57,564.79L1516.18,562.22L1495.02,540.57L1488.40,543.39Z" fill="url(#h4)"/><path d="M1488.40,543.39L1495.02,540.57L1473.85,518.91L1467.23,521.99Z" fill="url(#h5)"/><path d="M1467.23,521.99L1473.85,518.91L1452.68,497.25L1446.07,500.59Z" fill="url(#h6)"/><path d="M1446.07,500.59L1452.68,497.25L1431.52,475.60L1424.90,479.19Z" fill="url(#h7)"/><path d="M1424.90,479.19L1431.52,475.60L1410.35,453.94L1403.73,457.79Z" fill="url(#h8)"/><path d="M1403.73,457.79L1410.35,453.94L1389.18,432.29L1382.57,436.39Z" fill="url(#h9)"/><path d="M1382.57,436.39L1389.18,432.29L1368.02,410.63L1361.40,414.99Z" fill="url(#h10)"/><path d="M1361.40,414.99L1368.02,410.63L1346.85,388.98L1340.23,393.59Z" fill="url(#h11)"/><path d="M1340.23,393.59L1346.85,388.98L1325.68,367.32L1319.07,372.19Z" fill="url(#h12)"/><path d="M1319.07,372.19L1325.68,367.32L1304.52,345.66L1297.90,350.79Z" fill="url(#h13)"/><path d="M1297.90,350.79L1304.52,345.66L1283.35,324.01L1276.73,329.39Z" fill="url(#h14)"/><path d="M1276.73,329.39L1283.35,324.01L1262.18,302.35L1255.57,307.99Z" fill="url(#h15)"/><path d="M1255.57,307.99L1262.18,302.35L1241.02,280.70L1234.40,286.59Z" fill="url(#h16)"/><path d="M1234.40,286.59L1241.02,280.70L1198.68,237.39L1192.07,243.79Z" fill="url(#h17)"/><path d="M1192.07,243.79L1198.68,237.39L1177.52,215.73L1170.90,222.39Z" fill="url(#h18)"/><path d="M1170.90,222.39L1177.52,215.73L1135.18,172.42L1128.57,179.59Z" fill="url(#h19)"/><path d="M1128.57,179.59L1135.18,172.42L1092.85,129.11L1086.23,136.79Z" fill="url(#h20)"/><path d="M1086.23,136.79L1092.85,129.11L1071.68,107.45L1065.07,115.39Z" fill="url(#h21)"/><path d="M1566.45,630.78L1573.07,628.99L1065.07,115.39L1058.45,124.10Z" fill="url(#g111)"/><path d="M1545.28,609.67L1551.90,607.59L1530.73,586.19L1524.12,588.56Z" fill="url(#h2)"/><path d="M1524.12,588.56L1530.73,586.19L1509.57,564.79L1502.95,567.45Z" fill="url(#h3)"/><path d="M1502.95,567.45L1509.57,564.79L1488.40,543.39L1481.78,546.34Z" fill="url(#h4)"/><path d="M1481.78,546.34L1488.40,543.39L1467.23,521.99L1460.62,525.23Z" fill="url(#h6)"/><path d="M1460.62,525.23L1467.23,521.99L1446.07,500.59L1439.45,504.11Z" fill="url(#h7)"/><path d="M1439.45,504.11L1446.07,500.59L1424.90,479.19L1418.28,483.00Z" fill="url(#h8)"/><path d="M1418.28,483.00L1424.90,479.19L1403.73,457.79L1397.12,461.89Z" fill="url(#h9)"/><path d="M1397.12,461.89L1403.73,457.79L1382.57,436.39L1375.95,440.78Z" fill="url(#h10)"/><path d="M1375.95,440.78L1382.57,436.39L1361.40,414.99L1354.78,419.67Z" fill="url(#h12)"/><path d="M1354.78,419.67L1361.40,414.99L1340.23,393.59L1333.62,398.56Z" fill="url(#h13)"/><path d="M1333.62,398.56L1340.23,393.59L1319.07,372.19L1312.45,377.44Z" fill="url(#h14)"/><path d="M1312.45,377.44L1319.07,372.19L1297.90,350.79L1291.28,356.33Z" fill="url(#h15)"/><path d="M1291.28,356.33L1297.90,350.79L1276.73,329.39L1270.12,335.22Z" fill="url(#h16)"/><path d="M1270.12,335.22L1276.73,329.39L1255.57,307.99L1248.95,314.11Z" fill="url(#h17)"/><path d="M1248.95,314.11L1255.57,307.99L1213.23,265.19L1206.62,271.88Z" fill="url(#h18)"/><path d="M1206.62,271.88L1213.23,265.19L1192.07,243.79L1185.45,250.77Z" fill="url(#h19)"/><path d="M1185.45,250.77L1192.07,243.79L1149.73,200.99L1143.12,208.55Z" fill="url(#h20)"/><path d="M1143.12,208.55L1149.73,200.99L1086.23,136.79L1079.62,145.21Z" fill="url(#h21)"/><path d="M1079.62,145.21L1086.23,136.79L1065.07,115.39L1058.45,124.10Z" fill="url(#h22)"/><path d="M1559.83,632.58L1566.45,630.78L1058.45,124.10L1051.83,133.56Z" fill="url(#g110)"/><path d="M1538.67,611.79L1545.28,609.67L1524.12,588.56L1517.50,591.00Z" fill="url(#h2)"/><path d="M1517.50,591.00L1524.12,588.56L1502.95,567.45L1496.33,570.21Z" fill="url(#h3)"/><path d="M1496.33,570.21L1502.95,567.45L1481.78,546.34L1475.17,549.41Z" fill="url(#h5)"/><path d="M1475.17,549.41L1481.78,546.34L1460.62,525.23L1454.00,528.62Z" fill="url(#h6)"/><path d="M1454.00,528.62L1460.62,525.23L1439.45,504.11L1432.83,507.83Z" fill="url(#h7)"/><path d="M1432.83,507.83L1439.45,504.11L1418.28,483.00L1411.67,487.03Z" fill="url(#h9)"/><path d="M1411.67,487.03L1418.28,483.00L1397.12,461.89L1390.50,466.24Z" fill="url(#h10)"/><path d="M1390.50,466.24L1397.12,461.89L1375.95,440.78L1369.33,445.45Z" fill="url(#h11)"/><path d="M1369.33,445.45L1375.95,440.78L1354.78,419.67L1348.17,424.66Z" fill="url(#h13)"/><path d="M1348.17,424.66L1354.78,419.67L1333.62,398.56L1327.00,403.86Z" fill="url(#h14)"/><path d="M1327.00,403.86L1333.62,398.56L1312.45,377.44L1305.83,383.07Z" fill="url(#h15)"/><path d="M1305.83,383.07L1312.45,377.44L1291.28,356.33L1284.67,362.28Z" fill="url(#h16)"/><path d="M1284.67,362.28L1291.28,356.33L1270.12,335.22L1263.50,341.49Z" fill="url(#h17)"/><path d="M1263.50,341.49L1270.12,335.22L1248.95,314.11L1242.33,320.69Z" fill="url(#h18)"/><path d="M1242.33,320.69L1248.95,314.11L1206.62,271.88L1200.00,279.11Z" fill="url(#h19)"/><path d="M1200.00,279.11L1206.62,271.88L1164.28,229.66L1157.67,237.52Z" fill="url(#h20)"/><path d="M1157.67,237.52L1164.28,229.66L1121.95,187.44L1115.33,195.94Z" fill="url(#h21)"/><path d="M1115.33,195.94L1121.95,187.44L1079.62,145.21L1073.00,154.35Z" fill="url(#h22)"/><path d="M1073.00,154.35L1079.62,145.21L1058.45,124.10L1051.83,133.56Z" fill="url(#h23)"/><path d="M1553.22,634.38L1559.83,632.58L1051.83,133.56L1045.22,143.75Z" fill="url(#g109)"/><path d="M1532.05,613.94L1538.67,611.79L1517.50,591.00L1510.88,593.50Z" fill="url(#h1)"/><path d="M1510.88,593.50L1517.50,591.00L1496.33,570.21L1489.72,573.05Z" fill="url(#h3)"/><path d="M1489.72,573.05L1496.33,570.21L1475.17,549.41L1468.55,552.61Z" fill="url(#h5)"/><path d="M1468.55,552.61L1475.17,549.41L1454.00,528.62L1447.38,532.17Z" fill="url(#h6)"/><path d="M1447.38,532.17L1454.00,528.62L1432.83,507.83L1426.22,511.72Z" fill="url(#h8)"/><path d="M1426.22,511.72L1432.83,507.83L1411.67,487.03L1405.05,491.28Z" fill="url(#h9)"/><path d="M1405.05,491.28L1411.67,487.03L1390.50,466.24L1383.88,470.84Z" fill="url(#h11)"/><path d="M1383.88,470.84L1390.50,466.24L1369.33,445.45L1362.72,450.39Z" fill="url(#h12)"/><path d="M1362.72,450.39L1369.33,445.45L1348.17,424.66L1341.55,429.95Z" fill="url(#h13)"/><path d="M1341.55,429.95L1348.17,424.66L1327.00,403.86L1320.38,409.51Z" fill="url(#h14)"/><path d="M1320.38,409.51L1327.00,403.86L1305.83,383.07L1299.22,389.06Z" fill="url(#h16)"/><path d="M1299.22,389.06L1305.83,383.07L1284.67,362.28L1278.05,368.62Z" fill="url(#h17)"/><path d="M1278.05,368.62L1284.67,362.28L1263.50,341.49L1256.88,348.18Z" fill="url(#h18)"/><path d="M1256.88,348.18L1263.50,341.49L1221.17,299.90L1214.55,307.29Z" fill="url(#h19)"/><path d="M1214.55,307.29L1221.17,299.90L1200.00,279.11L1193.38,286.85Z" fill="url(#h20)"/><path d="M1193.38,286.85L1200.00,279.11L1157.67,237.52L1151.05,245.96Z" fill="url(#h21)"/><path d="M1151.05,245.96L1157.67,237.52L1094.17,175.15L1087.55,184.63Z" fill="url(#h22)"/><path d="M1087.55,184.63L1094.17,175.15L1051.83,133.56L1045.22,143.75Z" fill="url(#h23)"/><path d="M1546.60,636.18L1553.22,634.38L1045.22,143.75L1038.60,154.64Z" fill="url(#g108)"/><path d="M1525.43,616.12L1532.05,613.94L1510.88,593.50L1504.27,596.05Z" fill="url(#h1)"/><path d="M1504.27,596.05L1510.88,593.50L1489.72,573.05L1483.10,575.99Z" fill="url(#h3)"/><path d="M1483.10,575.99L1489.72,573.05L1468.55,552.61L1461.93,555.92Z" fill="url(#h5)"/><path d="M1461.93,555.92L1468.55,552.61L1447.38,532.17L1440.77,535.86Z" fill="url(#h6)"/><path d="M1440.77,535.86L1447.38,532.17L1426.22,511.72L1419.60,515.79Z" fill="url(#h8)"/><path d="M1419.60,515.79L1426.22,511.72L1405.05,491.28L1398.43,495.73Z" fill="url(#h9)"/><path d="M1398.43,495.73L1405.05,491.28L1383.88,470.84L1377.27,475.67Z" fill="url(#h11)"/><path d="M1377.27,475.67L1383.88,470.84L1362.72,450.39L1356.10,455.60Z" fill="url(#h12)"/><path d="M1356.10,455.60L1362.72,450.39L1341.55,429.95L1334.93,435.54Z" fill="url(#h14)"/><path d="M1334.93,435.54L1341.55,429.95L1320.38,409.51L1313.77,415.47Z" fill="url(#h15)"/><path d="M1313.77,415.47L1320.38,409.51L1299.22,389.06L1292.60,395.41Z" fill="url(#h16)"/><path d="M1292.60,395.41L1299.22,389.06L1256.88,348.18L1250.27,355.28Z" fill="url(#h18)"/><path d="M1250.27,355.28L1256.88,348.18L1235.72,327.73L1229.10,335.21Z" fill="url(#h19)"/><path d="M1229.10,335.21L1235.72,327.73L1193.38,286.85L1186.77,295.09Z" fill="url(#h20)"/><path d="M1186.77,295.09L1193.38,286.85L1172.22,266.40L1165.60,275.02Z" fill="url(#h21)"/><path d="M1165.60,275.02L1172.22,266.40L1108.72,205.07L1102.10,214.83Z" fill="url(#h22)"/><path d="M1102.10,214.83L1108.72,205.07L1066.38,164.19L1059.77,174.70Z" fill="url(#h23)"/><path d="M1059.77,174.70L1066.38,164.19L1045.22,143.75L1038.60,154.64Z" fill="url(#h24)"/><path d="M1539.98,637.98L1546.60,636.18L1038.60,154.64L1031.98,166.21Z" fill="url(#g107)"/><path d="M1518.82,618.32L1525.43,616.12L1504.27,596.05L1497.65,598.66Z" fill="url(#h1)"/><path d="M1497.65,598.66L1504.27,596.05L1483.10,575.99L1476.48,579.01Z" fill="url(#h3)"/><path d="M1476.48,579.01L1483.10,575.99L1461.93,555.92L1455.32,559.35Z" fill="url(#h5)"/><path d="M1455.32,559.35L1461.93,555.92L1440.77,535.86L1434.15,539.69Z" fill="url(#h6)"/><path d="M1434.15,539.69L1440.77,535.86L1419.60,515.79L1412.98,520.04Z" fill="url(#h8)"/><path d="M1412.98,520.04L1419.60,515.79L1398.43,495.73L1391.82,500.38Z" fill="url(#h10)"/><path d="M1391.82,500.38L1398.43,495.73L1377.27,475.67L1370.65,480.72Z" fill="url(#h11)"/><path d="M1370.65,480.72L1377.27,475.67L1356.10,455.60L1349.48,461.06Z" fill="url(#h13)"/><path d="M1349.48,461.06L1356.10,455.60L1334.93,435.54L1328.32,441.41Z" fill="url(#h14)"/><path d="M1328.32,441.41L1334.93,435.54L1313.77,415.47L1307.15,421.75Z" fill="url(#h16)"/><path d="M1307.15,421.75L1313.77,415.47L1292.60,395.41L1285.98,402.09Z" fill="url(#h17)"/><path d="M1285.98,402.09L1292.60,395.41L1271.43,375.34L1264.82,382.43Z" fill="url(#h18)"/><path d="M1264.82,382.43L1271.43,375.34L1250.27,355.28L1243.65,362.78Z" fill="url(#h19)"/><path d="M1243.65,362.78L1250.27,355.28L1207.93,315.15L1201.32,323.46Z" fill="url(#h20)"/><path d="M1201.32,323.46L1207.93,315.15L1165.60,275.02L1158.98,284.15Z" fill="url(#h21)"/><path d="M1158.98,284.15L1165.60,275.02L1123.27,234.89L1116.65,244.83Z" fill="url(#h22)"/><path d="M1116.65,244.83L1123.27,234.89L1080.93,194.76L1074.32,205.52Z" fill="url(#h23)"/><path d="M1074.32,205.52L1080.93,194.76L1038.60,154.64L1031.98,166.21Z" fill="url(#h24)"/><path d="M1533.37,639.78L1539.98,637.98L1031.98,166.21L1025.37,178.43Z" fill="url(#g106)"/><path d="M1491.03,601.33L1497.65,598.66L1476.48,579.01L1469.87,582.11Z" fill="url(#h2)"/><path d="M1469.87,582.11L1476.48,579.01L1455.32,559.35L1448.70,562.89Z" fill="url(#h4)"/><path d="M1448.70,562.89L1455.32,559.35L1434.15,539.69L1427.53,543.66Z" fill="url(#h6)"/><path d="M1427.53,543.66L1434.15,539.69L1412.98,520.04L1406.37,524.44Z" fill="url(#h8)"/><path d="M1406.37,524.44L1412.98,520.04L1391.82,500.38L1385.20,505.22Z" fill="url(#h10)"/><path d="M1385.20,505.22L1391.82,500.38L1370.65,480.72L1364.03,485.99Z" fill="url(#h12)"/><path d="M1364.03,485.99L1370.65,480.72L1349.48,461.06L1342.87,466.77Z" fill="url(#h13)"/><path d="M1342.87,466.77L1349.48,461.06L1328.32,441.41L1321.70,447.55Z" fill="url(#h15)"/><path d="M1321.70,447.55L1328.32,441.41L1307.15,421.75L1300.53,428.33Z" fill="url(#h16)"/><path d="M1300.53,428.33L1307.15,421.75L1285.98,402.09L1279.37,409.10Z" fill="url(#h17)"/><path d="M1279.37,409.10L1285.98,402.09L1264.82,382.43L1258.20,389.88Z" fill="url(#h18)"/><path d="M1258.20,389.88L1264.82,382.43L1243.65,362.78L1237.03,370.66Z" fill="url(#h19)"/><path d="M1237.03,370.66L1243.65,362.78L1201.32,323.46L1194.70,332.21Z" fill="url(#h20)"/><path d="M1194.70,332.21L1201.32,323.46L1180.15,303.81L1173.53,312.99Z" fill="url(#h21)"/><path d="M1173.53,312.99L1180.15,303.81L1137.82,264.49L1131.20,274.54Z" fill="url(#h22)"/><path d="M1131.20,274.54L1137.82,264.49L1074.32,205.52L1067.70,216.87Z" fill="url(#h23)"/><path d="M1067.70,216.87L1074.32,205.52L1031.98,166.21L1025.37,178.43Z" fill="url(#h24)"/><path d="M1526.75,641.57L1533.37,639.78L1025.37,178.43L1018.75,191.28Z" fill="url(#g105)"/><path d="M1484.42,604.05L1491.03,601.33L1469.87,582.11L1463.25,585.29Z" fill="url(#h2)"/><path d="M1463.25,585.29L1469.87,582.11L1448.70,562.89L1442.08,566.53Z" fill="url(#h4)"/><path d="M1442.08,566.53L1448.70,562.89L1427.53,543.66L1420.92,547.76Z" fill="url(#h6)"/><path d="M1420.92,547.76L1427.53,543.66L1406.37,524.44L1399.75,529.00Z" fill="url(#h8)"/><path d="M1399.75,529.00L1406.37,524.44L1385.20,505.22L1378.58,510.24Z" fill="url(#h10)"/><path d="M1378.58,510.24L1385.20,505.22L1364.03,485.99L1357.42,491.48Z" fill="url(#h12)"/><path d="M1357.42,491.48L1364.03,485.99L1342.87,466.77L1336.25,472.71Z" fill="url(#h13)"/><path d="M1336.25,472.71L1342.87,466.77L1321.70,447.55L1315.08,453.95Z" fill="url(#h15)"/><path d="M1315.08,453.95L1321.70,447.55L1300.53,428.33L1293.92,435.19Z" fill="url(#h17)"/><path d="M1293.92,435.19L1300.53,428.33L1279.37,409.10L1272.75,416.43Z" fill="url(#h18)"/><path d="M1272.75,416.43L1279.37,409.10L1237.03,370.66L1230.42,378.90Z" fill="url(#h19)"/><path d="M1230.42,378.90L1237.03,370.66L1215.87,351.43L1209.25,360.14Z" fill="url(#h20)"/><path d="M1209.25,360.14L1215.87,351.43L1173.53,312.99L1166.92,322.61Z" fill="url(#h21)"/><path d="M1166.92,322.61L1173.53,312.99L1131.20,274.54L1124.58,285.09Z" fill="url(#h22)"/><path d="M1124.58,285.09L1131.20,274.54L1088.87,236.10L1082.25,247.56Z" fill="url(#h23)"/><path d="M1082.25,247.56L1088.87,236.10L1025.37,178.43L1018.75,191.28Z" fill="url(#h24)"/><path d="M1520.13,643.37L1526.75,641.57L1018.75,191.28L1012.13,204.72Z" fill="url(#g104)"/><path d="M1477.80,606.82L1484.42,604.05L1463.25,585.29L1456.63,588.54Z" fill="url(#h2)"/><path d="M1456.63,588.54L1463.25,585.29L1442.08,566.53L1435.47,570.26Z" fill="url(#h4)"/><path d="M1435.47,570.26L1442.08,566.53L1420.92,547.76L1414.30,551.99Z" fill="url(#h6)"/><path d="M1414.30,551.99L1420.92,547.76L1399.75,529.00L1393.13,533.71Z" fill="url(#h8)"/><path d="M1393.13,533.71L1399.75,529.00L1378.58,510.24L1371.97,515.43Z" fill="url(#h10)"/><path d="M1371.97,515.43L1378.58,510.24L1357.42,491.48L1350.80,497.15Z" fill="url(#h12)"/><path d="M1350.80,497.15L1357.42,491.48L1336.25,472.71L1329.63,478.88Z" fill="url(#h14)"/><path d="M1329.63,478.88L1336.25,472.71L1315.08,453.95L1308.47,460.60Z" fill="url(#h15)"/><path d="M1308.47,460.60L1315.08,453.95L1293.92,435.19L1287.30,442.32Z" fill="url(#h17)"/><path d="M1287.30,442.32L1293.92,435.19L1272.75,416.43L1266.13,424.05Z" fill="url(#h18)"/><path d="M1266.13,424.05L1272.75,416.43L1230.42,378.90L1223.80,387.49Z" fill="url(#h19)"/><path d="M1223.80,387.49L1230.42,378.90L1209.25,360.14L1202.63,369.21Z" fill="url(#h20)"/><path d="M1202.63,369.21L1209.25,360.14L1166.92,322.61L1160.30,332.66Z" fill="url(#h21)"/><path d="M1160.30,332.66L1166.92,322.61L1145.75,303.85L1139.13,314.38Z" fill="url(#h22)"/><path d="M1139.13,314.38L1145.75,303.85L1082.25,247.56L1075.63,259.55Z" fill="url(#h23)"/><path d="M1075.63,259.55L1082.25,247.56L1039.92,210.04L1033.30,223.00Z" fill="url(#h24)"/><path d="M1033.30,223.00L1039.92,210.04L1018.75,191.28L1012.13,204.72Z" fill="url(#h25)"/><path d="M1513.52,645.17L1520.13,643.37L1012.13,204.72L1005.52,218.72Z" fill="url(#g103)"/><path d="M1471.18,609.63L1477.80,606.82L1456.63,588.54L1450.02,591.87Z" fill="url(#h1)"/><path d="M1450.02,591.87L1456.63,588.54L1435.47,570.26L1428.85,574.10Z" fill="url(#h4)"/><path d="M1428.85,574.10L1435.47,570.26L1414.30,551.99L1407.68,556.33Z" fill="url(#h6)"/><path d="M1407.68,556.33L1414.30,551.99L1393.13,533.71L1386.52,538.56Z" fill="url(#h8)"/><path d="M1386.52,538.56L1393.13,533.71L1371.97,515.43L1365.35,520.79Z" fill="url(#h10)"/><path d="M1365.35,520.79L1371.97,515.43L1350.80,497.15L1344.18,503.02Z" fill="url(#h12)"/><path d="M1344.18,503.02L1350.80,497.15L1329.63,478.88L1323.02,485.25Z" fill="url(#h14)"/><path d="M1323.02,485.25L1329.63,478.88L1308.47,460.60L1301.85,467.48Z" fill="url(#h16)"/><path d="M1301.85,467.48L1308.47,460.60L1287.30,442.32L1280.68,449.72Z" fill="url(#h17)"/><path d="M1280.68,449.72L1287.30,442.32L1266.13,424.05L1259.52,431.95Z" fill="url(#h18)"/><path d="M1259.52,431.95L1266.13,424.05L1244.97,405.77L1238.35,414.18Z" fill="url(#h19)"/><path d="M1238.35,414.18L1244.97,405.77L1202.63,369.21L1196.02,378.64Z" fill="url(#h20)"/><path d="M1196.02,378.64L1202.63,369.21L1181.47,350.94L1174.85,360.87Z" fill="url(#h21)"/><path d="M1174.85,360.87L1181.47,350.94L1139.13,314.38L1132.52,325.33Z" fill="url(#h22)"/><path d="M1132.52,325.33L1139.13,314.38L1075.63,259.55L1069.02,272.03Z" fill="url(#h23)"/><path d="M1069.02,272.03L1075.63,259.55L1033.30,223.00L1026.68,236.49Z" fill="url(#h24)"/><path d="M1026.68,236.49L1033.30,223.00L1012.13,204.72L1005.52,218.72Z" fill="url(#h25)"/><path d="M1506.90,646.97L1513.52,645.17L1005.52,218.72L998.90,233.26Z" fill="url(#g102)"/><path d="M1464.57,612.49L1471.18,609.63L1450.02,591.87L1443.40,595.26Z" fill="url(#h1)"/><path d="M1443.40,595.26L1450.02,591.87L1428.85,574.10L1422.23,578.02Z" fill="url(#h3)"/><path d="M1422.23,578.02L1428.85,574.10L1407.68,556.33L1401.07,560.78Z" fill="url(#h6)"/><path d="M1401.07,560.78L1407.68,556.33L1386.52,538.56L1379.90,543.54Z" fill="url(#h8)"/><path d="M1379.90,543.54L1386.52,538.56L1365.35,520.79L1358.73,526.30Z" fill="url(#h10)"/><path d="M1358.73,526.30L1365.35,520.79L1344.18,503.02L1337.57,509.07Z" fill="url(#h12)"/><path d="M1337.57,509.07L1344.18,503.02L1323.02,485.25L1316.40,491.83Z" fill="url(#h14)"/><path d="M1316.40,491.83L1323.02,485.25L1301.85,467.48L1295.23,474.59Z" fill="url(#h16)"/><path d="M1295.23,474.59L1301.85,467.48L1280.68,449.72L1274.07,457.35Z" fill="url(#h17)"/><path d="M1274.07,457.35L1280.68,449.72L1259.52,431.95L1252.90,440.11Z" fill="url(#h18)"/><path d="M1252.90,440.11L1259.52,431.95L1238.35,414.18L1231.73,422.87Z" fill="url(#h19)"/><path d="M1231.73,422.87L1238.35,414.18L1196.02,378.64L1189.40,388.40Z" fill="url(#h20)"/><path d="M1189.40,388.40L1196.02,378.64L1174.85,360.87L1168.23,371.16Z" fill="url(#h21)"/><path d="M1168.23,371.16L1174.85,360.87L1132.52,325.33L1125.90,336.68Z" fill="url(#h22)"/><path d="M1125.90,336.68L1132.52,325.33L1090.18,289.80L1083.57,302.21Z" fill="url(#h23)"/><path d="M1083.57,302.21L1090.18,289.80L1026.68,236.49L1020.07,250.49Z" fill="url(#h24)"/><path d="M1020.07,250.49L1026.68,236.49L1005.52,218.72L998.90,233.26Z" fill="url(#h25)"/><path d="M1500.28,648.77L1506.90,646.97L998.90,233.26L992.28,248.28Z" fill="url(#g101)"/><path d="M1436.78,598.71L1443.40,595.26L1422.23,578.02L1415.62,582.02Z" fill="url(#h3)"/><path d="M1415.62,582.02L1422.23,578.02L1401.07,560.78L1394.45,565.33Z" fill="url(#h5)"/><path d="M1394.45,565.33L1401.07,560.78L1379.90,543.54L1373.28,548.65Z" fill="url(#h8)"/><path d="M1373.28,548.65L1379.90,543.54L1358.73,526.30L1352.12,531.96Z" fill="url(#h10)"/><path d="M1352.12,531.96L1358.73,526.30L1337.57,509.07L1330.95,515.27Z" fill="url(#h12)"/><path d="M1330.95,515.27L1337.57,509.07L1316.40,491.83L1309.78,498.59Z" fill="url(#h14)"/><path d="M1309.78,498.59L1316.40,491.83L1295.23,474.59L1288.62,481.90Z" fill="url(#h15)"/><path d="M1288.62,481.90L1295.23,474.59L1274.07,457.35L1267.45,465.21Z" fill="url(#h17)"/><path d="M1267.45,465.21L1274.07,457.35L1252.90,440.11L1246.28,448.53Z" fill="url(#h18)"/><path d="M1246.28,448.53L1252.90,440.11L1210.57,405.64L1203.95,415.15Z" fill="url(#h19)"/><path d="M1203.95,415.15L1210.57,405.64L1189.40,388.40L1182.78,398.46Z" fill="url(#h20)"/><path d="M1182.78,398.46L1189.40,388.40L1168.23,371.16L1161.62,381.78Z" fill="url(#h21)"/><path d="M1161.62,381.78L1168.23,371.16L1125.90,336.68L1119.28,348.40Z" fill="url(#h22)"/><path d="M1119.28,348.40L1125.90,336.68L1083.57,302.21L1076.95,315.03Z" fill="url(#h23)"/><path d="M1076.95,315.03L1083.57,302.21L1020.07,250.49L1013.45,264.97Z" fill="url(#h24)"/><path d="M1013.45,264.97L1020.07,250.49L998.90,233.26L992.28,248.28Z" fill="url(#h25)"/><path d="M1493.67,650.57L1500.28,648.77L992.28,248.28L985.67,263.77Z" fill="url(#g100)"/><path d="M1430.17,602.22L1436.78,598.71L1415.62,582.02L1409.00,586.10Z" fill="url(#h2)"/><path d="M1409.00,586.10L1415.62,582.02L1394.45,565.33L1387.83,569.98Z" fill="url(#h5)"/><path d="M1387.83,569.98L1394.45,565.33L1373.28,548.65L1366.67,553.87Z" fill="url(#h7)"/><path d="M1366.67,553.87L1373.28,548.65L1352.12,531.96L1345.50,537.75Z" fill="url(#h10)"/><path d="M1345.50,537.75L1352.12,531.96L1330.95,515.27L1324.33,521.63Z" fill="url(#h12)"/><path d="M1324.33,521.63L1330.95,515.27L1309.78,498.59L1303.17,505.52Z" fill="url(#h14)"/><path d="M1303.17,505.52L1309.78,498.59L1288.62,481.90L1282.00,489.40Z" fill="url(#h15)"/><path d="M1282.00,489.40L1288.62,481.90L1267.45,465.21L1260.83,473.28Z" fill="url(#h17)"/><path d="M1260.83,473.28L1267.45,465.21L1246.28,448.53L1239.67,457.17Z" fill="url(#h18)"/><path d="M1239.67,457.17L1246.28,448.53L1203.95,415.15L1197.33,424.93Z" fill="url(#h19)"/><path d="M1197.33,424.93L1203.95,415.15L1182.78,398.46L1176.17,408.82Z" fill="url(#h20)"/><path d="M1176.17,408.82L1182.78,398.46L1140.45,365.09L1133.83,376.58Z" fill="url(#h21)"/><path d="M1133.83,376.58L1140.45,365.09L1119.28,348.40L1112.67,360.47Z" fill="url(#h22)"/><path d="M1112.67,360.47L1119.28,348.40L1055.78,298.34L1049.17,312.12Z" fill="url(#h23)"/><path d="M1049.17,312.12L1055.78,298.34L1013.45,264.97L1006.83,279.88Z" fill="url(#h24)"/><path d="M1006.83,279.88L1013.45,264.97L992.28,248.28L985.67,263.77Z" fill="url(#h25)"/><path d="M1487.05,652.37L1493.67,650.57L985.67,263.77L979.05,279.67Z" fill="url(#g99)"/><path d="M1423.55,605.78L1430.17,602.22L1409.00,586.10L1402.38,590.25Z" fill="url(#h2)"/><path d="M1402.38,590.25L1409.00,586.10L1387.83,569.98L1381.22,574.72Z" fill="url(#h4)"/><path d="M1381.22,574.72L1387.83,569.98L1366.67,553.87L1360.05,559.19Z" fill="url(#h7)"/><path d="M1360.05,559.19L1366.67,553.87L1345.50,537.75L1338.88,543.66Z" fill="url(#h9)"/><path d="M1338.88,543.66L1345.50,537.75L1324.33,521.63L1317.72,528.13Z" fill="url(#h12)"/><path d="M1317.72,528.13L1324.33,521.63L1303.17,505.52L1296.55,512.60Z" fill="url(#h14)"/><path d="M1296.55,512.60L1303.17,505.52L1282.00,489.40L1275.38,497.08Z" fill="url(#h15)"/><path d="M1275.38,497.08L1282.00,489.40L1260.83,473.28L1254.22,481.55Z" fill="url(#h16)"/><path d="M1254.22,481.55L1260.83,473.28L1239.67,457.17L1233.05,466.02Z" fill="url(#h17)"/><path d="M1233.05,466.02L1239.67,457.17L1218.50,441.05L1211.88,450.49Z" fill="url(#h18)"/><path d="M1211.88,450.49L1218.50,441.05L1197.33,424.93L1190.72,434.96Z" fill="url(#h19)"/><path d="M1190.72,434.96L1197.33,424.93L1176.17,408.82L1169.55,419.43Z" fill="url(#h20)"/><path d="M1169.55,419.43L1176.17,408.82L1133.83,376.58L1127.22,388.37Z" fill="url(#h21)"/><path d="M1127.22,388.37L1133.83,376.58L1091.50,344.35L1084.88,357.32Z" fill="url(#h22)"/><path d="M1084.88,357.32L1091.50,344.35L1049.17,312.12L1042.55,326.26Z" fill="url(#h23)"/><path d="M1042.55,326.26L1049.17,312.12L1006.83,279.88L1000.22,295.20Z" fill="url(#h24)"/><path d="M1000.22,295.20L1006.83,279.88L985.67,263.77L979.05,279.67Z" fill="url(#h25)"/><path d="M1480.43,654.16L1487.05,652.37L979.05,279.67L972.43,295.96Z" fill="url(#g98)"/><path d="M1416.93,609.39L1423.55,605.78L1402.38,590.25L1395.77,594.46Z" fill="url(#h1)"/><path d="M1395.77,594.46L1402.38,590.25L1381.22,574.72L1374.60,579.54Z" fill="url(#h4)"/><path d="M1374.60,579.54L1381.22,574.72L1360.05,559.19L1353.43,564.61Z" fill="url(#h6)"/><path d="M1353.43,564.61L1360.05,559.19L1338.88,543.66L1332.27,549.69Z" fill="url(#h9)"/><path d="M1332.27,549.69L1338.88,543.66L1317.72,528.13L1311.10,534.76Z" fill="url(#h11)"/><path d="M1311.10,534.76L1317.72,528.13L1296.55,512.60L1289.93,519.84Z" fill="url(#h13)"/><path d="M1289.93,519.84L1296.55,512.60L1275.38,497.08L1268.77,504.91Z" fill="url(#h15)"/><path d="M1268.77,504.91L1275.38,497.08L1254.22,481.55L1247.60,489.99Z" fill="url(#h16)"/><path d="M1247.60,489.99L1254.22,481.55L1233.05,466.02L1226.43,475.06Z" fill="url(#h17)"/><path d="M1226.43,475.06L1233.05,466.02L1211.88,450.49L1205.27,460.14Z" fill="url(#h18)"/><path d="M1205.27,460.14L1211.88,450.49L1190.72,434.96L1184.10,445.21Z" fill="url(#h19)"/><path d="M1184.10,445.21L1190.72,434.96L1169.55,419.43L1162.93,430.28Z" fill="url(#h20)"/><path d="M1162.93,430.28L1169.55,419.43L1127.22,388.37L1120.60,400.43Z" fill="url(#h21)"/><path d="M1120.60,400.43L1127.22,388.37L1084.88,357.32L1078.27,370.58Z" fill="url(#h22)"/><path d="M1078.27,370.58L1084.88,357.32L1042.55,326.26L1035.93,340.73Z" fill="url(#h23)"/><path d="M1035.93,340.73L1042.55,326.26L979.05,279.67L972.43,295.96Z" fill="url(#h24)"/><path d="M1473.82,655.96L1480.43,654.16L972.43,295.96L965.82,312.59Z" fill="url(#g97)"/><path d="M1389.15,598.73L1395.77,594.46L1374.60,579.54L1367.98,584.43Z" fill="url(#h3)"/><path d="M1367.98,584.43L1374.60,579.54L1353.43,564.61L1346.82,570.12Z" fill="url(#h6)"/><path d="M1346.82,570.12L1353.43,564.61L1332.27,549.69L1325.65,555.81Z" fill="url(#h9)"/><path d="M1325.65,555.81L1332.27,549.69L1311.10,534.76L1304.48,541.50Z" fill="url(#h11)"/><path d="M1304.48,541.50L1311.10,534.76L1289.93,519.84L1283.32,527.20Z" fill="url(#h13)"/><path d="M1283.32,527.20L1289.93,519.84L1268.77,504.91L1262.15,512.89Z" fill="url(#h14)"/><path d="M1262.15,512.89L1268.77,504.91L1247.60,489.99L1240.98,498.58Z" fill="url(#h16)"/><path d="M1240.98,498.58L1247.60,489.99L1226.43,475.06L1219.82,484.27Z" fill="url(#h17)"/><path d="M1219.82,484.27L1226.43,475.06L1205.27,460.14L1198.65,469.97Z" fill="url(#h18)"/><path d="M1198.65,469.97L1205.27,460.14L1184.10,445.21L1177.48,455.66Z" fill="url(#h19)"/><path d="M1177.48,455.66L1184.10,445.21L1141.77,415.36L1135.15,427.04Z" fill="url(#h20)"/><path d="M1135.15,427.04L1141.77,415.36L1120.60,400.43L1113.98,412.74Z" fill="url(#h21)"/><path d="M1113.98,412.74L1120.60,400.43L1078.27,370.58L1071.65,384.12Z" fill="url(#h22)"/><path d="M1071.65,384.12L1078.27,370.58L1035.93,340.73L1029.32,355.51Z" fill="url(#h23)"/><path d="M1029.32,355.51L1035.93,340.73L972.43,295.96L965.82,312.59Z" fill="url(#h24)"/><path d="M1467.20,657.76L1473.82,655.96L965.82,312.59L959.20,329.52Z" fill="url(#g96)"/><path d="M1382.53,603.05L1389.15,598.73L1367.98,584.43L1361.37,589.38Z" fill="url(#h3)"/><path d="M1361.37,589.38L1367.98,584.43L1346.82,570.12L1340.20,575.70Z" fill="url(#h5)"/><path d="M1340.20,575.70L1346.82,570.12L1325.65,555.81L1319.03,562.02Z" fill="url(#h8)"/><path d="M1319.03,562.02L1325.65,555.81L1304.48,541.50L1297.87,548.35Z" fill="url(#h11)"/><path d="M1297.87,548.35L1304.48,541.50L1283.32,527.20L1276.70,534.67Z" fill="url(#h13)"/><path d="M1276.70,534.67L1283.32,527.20L1262.15,512.89L1255.53,520.99Z" fill="url(#h14)"/><path d="M1255.53,520.99L1262.15,512.89L1240.98,498.58L1234.37,507.31Z" fill="url(#h15)"/><path d="M1234.37,507.31L1240.98,498.58L1219.82,484.27L1213.20,493.64Z" fill="url(#h17)"/><path d="M1213.20,493.64L1219.82,484.27L1198.65,469.97L1192.03,479.96Z" fill="url(#h18)"/><path d="M1192.03,479.96L1198.65,469.97L1156.32,441.35L1149.70,452.61Z" fill="url(#h19)"/><path d="M1149.70,452.61L1156.32,441.35L1135.15,427.04L1128.53,438.93Z" fill="url(#h20)"/><path d="M1128.53,438.93L1135.15,427.04L1092.82,398.43L1086.20,411.58Z" fill="url(#h21)"/><path d="M1086.20,411.58L1092.82,398.43L1050.48,369.82L1043.87,384.22Z" fill="url(#h22)"/><path d="M1043.87,384.22L1050.48,369.82L1008.15,341.20L1001.53,356.87Z" fill="url(#h23)"/><path d="M1001.53,356.87L1008.15,341.20L965.82,312.59L959.20,329.52Z" fill="url(#h24)"/><path d="M1460.58,659.56L1467.20,657.76L959.20,329.52L952.58,346.70Z" fill="url(#g95)"/><path d="M1375.92,607.42L1382.53,603.05L1361.37,589.38L1354.75,594.38Z" fill="url(#h2)"/><path d="M1354.75,594.38L1361.37,589.38L1340.20,575.70L1333.58,581.34Z" fill="url(#h5)"/><path d="M1333.58,581.34L1340.20,575.70L1319.03,562.02L1312.42,568.31Z" fill="url(#h8)"/><path d="M1312.42,568.31L1319.03,562.02L1297.87,548.35L1291.25,555.27Z" fill="url(#h10)"/><path d="M1291.25,555.27L1297.87,548.35L1276.70,534.67L1270.08,542.24Z" fill="url(#h12)"/><path d="M1270.08,542.24L1276.70,534.67L1255.53,520.99L1248.92,529.20Z" fill="url(#h14)"/><path d="M1248.92,529.20L1255.53,520.99L1234.37,507.31L1227.75,516.17Z" fill="url(#h15)"/><path d="M1227.75,516.17L1234.37,507.31L1213.20,493.64L1206.58,503.13Z" fill="url(#h16)"/><path d="M1206.58,503.13L1213.20,493.64L1192.03,479.96L1185.42,490.10Z" fill="url(#h17)"/><path d="M1185.42,490.10L1192.03,479.96L1170.87,466.28L1164.25,477.06Z" fill="url(#h18)"/><path d="M1164.25,477.06L1170.87,466.28L1149.70,452.61L1143.08,464.02Z" fill="url(#h19)"/><path d="M1143.08,464.02L1149.70,452.61L1128.53,438.93L1121.92,450.99Z" fill="url(#h20)"/><path d="M1121.92,450.99L1128.53,438.93L1086.20,411.58L1079.58,424.92Z" fill="url(#h21)"/><path d="M1079.58,424.92L1086.20,411.58L1043.87,384.22L1037.25,398.85Z" fill="url(#h22)"/><path d="M1037.25,398.85L1043.87,384.22L1001.53,356.87L994.92,372.78Z" fill="url(#h23)"/><path d="M994.92,372.78L1001.53,356.87L959.20,329.52L952.58,346.70Z" fill="url(#h24)"/><path d="M1453.97,661.36L1460.58,659.56L952.58,346.70L945.97,364.11Z" fill="url(#g94)"/><path d="M1369.30,611.82L1375.92,607.42L1354.75,594.38L1348.13,599.43Z" fill="url(#h1)"/><path d="M1348.13,599.43L1354.75,594.38L1333.58,581.34L1326.97,587.05Z" fill="url(#h4)"/><path d="M1326.97,587.05L1333.58,581.34L1312.42,568.31L1305.80,574.66Z" fill="url(#h7)"/><path d="M1305.80,574.66L1312.42,568.31L1291.25,555.27L1284.63,562.27Z" fill="url(#h10)"/><path d="M1284.63,562.27L1291.25,555.27L1270.08,542.24L1263.47,549.89Z" fill="url(#h12)"/><path d="M1263.47,549.89L1270.08,542.24L1248.92,529.20L1242.30,537.50Z" fill="url(#h13)"/><path d="M1242.30,537.50L1248.92,529.20L1227.75,516.17L1221.13,525.12Z" fill="url(#h15)"/><path d="M1221.13,525.12L1227.75,516.17L1206.58,503.13L1199.97,512.73Z" fill="url(#h16)"/><path d="M1199.97,512.73L1206.58,503.13L1185.42,490.10L1178.80,500.35Z" fill="url(#h17)"/><path d="M1178.80,500.35L1185.42,490.10L1164.25,477.06L1157.63,487.96Z" fill="url(#h18)"/><path d="M1157.63,487.96L1164.25,477.06L1143.08,464.02L1136.47,475.58Z" fill="url(#h19)"/><path d="M1136.47,475.58L1143.08,464.02L1100.75,437.95L1094.13,450.81Z" fill="url(#h20)"/><path d="M1094.13,450.81L1100.75,437.95L1058.42,411.88L1051.80,426.04Z" fill="url(#h21)"/><path d="M1051.80,426.04L1058.42,411.88L1016.08,385.81L1009.47,401.27Z" fill="url(#h22)"/><path d="M1009.47,401.27L1016.08,385.81L973.75,359.74L967.13,376.50Z" fill="url(#h23)"/><path d="M967.13,376.50L973.75,359.74L952.58,346.70L945.97,364.11Z" fill="url(#h24)"/><path d="M1447.35,663.15L1453.97,661.36L945.97,364.11L939.35,381.69Z" fill="url(#g93)"/><path d="M1341.52,604.52L1348.13,599.43L1326.97,587.05L1320.35,592.79Z" fill="url(#h3)"/><path d="M1320.35,592.79L1326.97,587.05L1305.80,574.66L1299.18,581.06Z" fill="url(#h6)"/><path d="M1299.18,581.06L1305.80,574.66L1284.63,562.27L1278.02,569.33Z" fill="url(#h9)"/><path d="M1278.02,569.33L1284.63,562.27L1263.47,549.89L1256.85,557.61Z" fill="url(#h11)"/><path d="M1256.85,557.61L1263.47,549.89L1242.30,537.50L1235.68,545.88Z" fill="url(#h13)"/><path d="M1235.68,545.88L1242.30,537.50L1221.13,525.12L1214.52,534.15Z" fill="url(#h14)"/><path d="M1214.52,534.15L1221.13,525.12L1199.97,512.73L1193.35,522.42Z" fill="url(#h15)"/><path d="M1193.35,522.42L1199.97,512.73L1178.80,500.35L1172.18,510.70Z" fill="url(#h17)"/><path d="M1172.18,510.70L1178.80,500.35L1136.47,475.58L1129.85,487.24Z" fill="url(#h18)"/><path d="M1129.85,487.24L1136.47,475.58L1115.30,463.19L1108.68,475.51Z" fill="url(#h19)"/><path d="M1108.68,475.51L1115.30,463.19L1094.13,450.81L1087.52,463.79Z" fill="url(#h20)"/><path d="M1087.52,463.79L1094.13,450.81L1051.80,426.04L1045.18,440.33Z" fill="url(#h21)"/><path d="M1045.18,440.33L1051.80,426.04L1009.47,401.27L1002.85,416.88Z" fill="url(#h22)"/><path d="M1002.85,416.88L1009.47,401.27L945.97,364.11L939.35,381.69Z" fill="url(#h23)"/><path d="M1440.73,664.95L1447.35,663.15L939.35,381.69L932.73,399.40Z" fill="url(#g92)"/><path d="M1334.90,609.63L1341.52,604.52L1320.35,592.79L1313.73,598.57Z" fill="url(#h3)"/><path d="M1313.73,598.57L1320.35,592.79L1299.18,581.06L1292.57,587.50Z" fill="url(#h6)"/><path d="M1292.57,587.50L1299.18,581.06L1278.02,569.33L1271.40,576.44Z" fill="url(#h8)"/><path d="M1271.40,576.44L1278.02,569.33L1256.85,557.61L1250.23,565.37Z" fill="url(#h10)"/><path d="M1250.23,565.37L1256.85,557.61L1235.68,545.88L1229.07,554.31Z" fill="url(#h12)"/><path d="M1229.07,554.31L1235.68,545.88L1214.52,534.15L1207.90,543.24Z" fill="url(#h14)"/><path d="M1207.90,543.24L1214.52,534.15L1193.35,522.42L1186.73,532.18Z" fill="url(#h15)"/><path d="M1186.73,532.18L1193.35,522.42L1172.18,510.70L1165.57,521.11Z" fill="url(#h16)"/><path d="M1165.57,521.11L1172.18,510.70L1151.02,498.97L1144.40,510.05Z" fill="url(#h17)"/><path d="M1144.40,510.05L1151.02,498.97L1129.85,487.24L1123.23,498.99Z" fill="url(#h18)"/><path d="M1123.23,498.99L1129.85,487.24L1108.68,475.51L1102.07,487.92Z" fill="url(#h19)"/><path d="M1102.07,487.92L1108.68,475.51L1066.35,452.06L1059.73,465.79Z" fill="url(#h20)"/><path d="M1059.73,465.79L1066.35,452.06L1024.02,428.60L1017.40,443.66Z" fill="url(#h21)"/><path d="M1017.40,443.66L1024.02,428.60L981.68,405.15L975.07,421.53Z" fill="url(#h22)"/><path d="M975.07,421.53L981.68,405.15L939.35,381.69L932.73,399.40Z" fill="url(#h23)"/><path d="M1434.12,666.75L1440.73,664.95L932.73,399.40L926.12,417.21Z" fill="url(#g91)"/><path d="M1328.28,614.76L1334.90,609.63L1313.73,598.57L1307.12,604.37Z" fill="url(#h2)"/><path d="M1307.12,604.37L1313.73,598.57L1292.57,587.50L1285.95,593.97Z" fill="url(#h5)"/><path d="M1285.95,593.97L1292.57,587.50L1271.40,576.44L1264.78,583.57Z" fill="url(#h8)"/><path d="M1264.78,583.57L1271.40,576.44L1250.23,565.37L1243.62,573.17Z" fill="url(#h10)"/><path d="M1243.62,573.17L1250.23,565.37L1229.07,554.31L1222.45,562.77Z" fill="url(#h12)"/><path d="M1222.45,562.77L1229.07,554.31L1207.90,543.24L1201.28,552.38Z" fill="url(#h13)"/><path d="M1201.28,552.38L1207.90,543.24L1186.73,532.18L1180.12,541.98Z" fill="url(#h14)"/><path d="M1180.12,541.98L1186.73,532.18L1165.57,521.11L1158.95,531.58Z" fill="url(#h16)"/><path d="M1158.95,531.58L1165.57,521.11L1144.40,510.05L1137.78,521.18Z" fill="url(#h17)"/><path d="M1137.78,521.18L1144.40,510.05L1102.07,487.92L1095.45,500.39Z" fill="url(#h18)"/><path d="M1095.45,500.39L1102.07,487.92L1080.90,476.86L1074.28,489.99Z" fill="url(#h19)"/><path d="M1074.28,489.99L1080.90,476.86L1038.57,454.73L1031.95,469.19Z" fill="url(#h20)"/><path d="M1031.95,469.19L1038.57,454.73L1017.40,443.66L1010.78,458.80Z" fill="url(#h21)"/><path d="M1010.78,458.80L1017.40,443.66L953.90,410.47L947.28,427.60Z" fill="url(#h22)"/><path d="M947.28,427.60L953.90,410.47L932.73,399.40L926.12,417.21Z" fill="url(#h23)"/><path d="M1427.50,668.55L1434.12,666.75L926.12,417.21L919.50,435.05Z" fill="url(#g90)"/><path d="M1321.67,619.90L1328.28,614.76L1307.12,604.37L1300.50,610.17Z" fill="url(#h1)"/><path d="M1300.50,610.17L1307.12,604.37L1285.95,593.97L1279.33,600.45Z" fill="url(#h4)"/><path d="M1279.33,600.45L1285.95,593.97L1264.78,583.57L1258.17,590.72Z" fill="url(#h7)"/><path d="M1258.17,590.72L1264.78,583.57L1243.62,573.17L1237.00,580.99Z" fill="url(#h9)"/><path d="M1237.00,580.99L1243.62,573.17L1222.45,562.77L1215.83,571.26Z" fill="url(#h11)"/><path d="M1215.83,571.26L1222.45,562.77L1201.28,552.38L1194.67,561.53Z" fill="url(#h12)"/><path d="M1194.67,561.53L1201.28,552.38L1180.12,541.98L1173.50,551.80Z" fill="url(#h14)"/><path d="M1173.50,551.80L1180.12,541.98L1158.95,531.58L1152.33,542.07Z" fill="url(#h15)"/><path d="M1152.33,542.07L1158.95,531.58L1137.78,521.18L1131.17,532.34Z" fill="url(#h16)"/><path d="M1131.17,532.34L1137.78,521.18L1116.62,510.79L1110.00,522.61Z" fill="url(#h17)"/><path d="M1110.00,522.61L1116.62,510.79L1095.45,500.39L1088.83,512.88Z" fill="url(#h18)"/><path d="M1088.83,512.88L1095.45,500.39L1053.12,479.59L1046.50,493.43Z" fill="url(#h19)"/><path d="M1046.50,493.43L1053.12,479.59L1031.95,469.19L1025.33,483.70Z" fill="url(#h20)"/><path d="M1025.33,483.70L1031.95,469.19L989.62,448.40L983.00,464.24Z" fill="url(#h21)"/><path d="M983.00,464.24L989.62,448.40L947.28,427.60L940.67,444.78Z" fill="url(#h22)"/><path d="M940.67,444.78L947.28,427.60L926.12,417.21L919.50,435.05Z" fill="url(#h23)"/><path d="M1420.88,670.35L1427.50,668.55L919.50,435.05L912.88,452.89Z" fill="url(#g89)"/><path d="M1293.88,615.98L1300.50,610.17L1279.33,600.45L1272.72,606.92Z" fill="url(#h3)"/><path d="M1272.72,606.92L1279.33,600.45L1258.17,590.72L1251.55,597.86Z" fill="url(#h6)"/><path d="M1251.55,597.86L1258.17,590.72L1237.00,580.99L1230.38,588.80Z" fill="url(#h8)"/><path d="M1230.38,588.80L1237.00,580.99L1215.83,571.26L1209.22,579.74Z" fill="url(#h10)"/><path d="M1209.22,579.74L1215.83,571.26L1194.67,561.53L1188.05,570.68Z" fill="url(#h12)"/><path d="M1188.05,570.68L1194.67,561.53L1173.50,551.80L1166.88,561.62Z" fill="url(#h13)"/><path d="M1166.88,561.62L1173.50,551.80L1152.33,542.07L1145.72,552.56Z" fill="url(#h15)"/><path d="M1145.72,552.56L1152.33,542.07L1131.17,532.34L1124.55,543.50Z" fill="url(#h16)"/><path d="M1124.55,543.50L1131.17,532.34L1110.00,522.61L1103.38,534.44Z" fill="url(#h17)"/><path d="M1103.38,534.44L1110.00,522.61L1067.67,503.15L1061.05,516.32Z" fill="url(#h18)"/><path d="M1061.05,516.32L1067.67,503.15L1046.50,493.43L1039.88,507.26Z" fill="url(#h19)"/><path d="M1039.88,507.26L1046.50,493.43L1004.17,473.97L997.55,489.14Z" fill="url(#h20)"/><path d="M997.55,489.14L1004.17,473.97L961.83,454.51L955.22,471.02Z" fill="url(#h21)"/><path d="M955.22,471.02L961.83,454.51L919.50,435.05L912.88,452.89Z" fill="url(#h22)"/><path d="M1414.27,672.15L1420.88,670.35L912.88,452.89L906.27,470.70Z" fill="url(#g88)"/><path d="M1287.27,621.78L1293.88,615.98L1272.72,606.92L1266.10,613.39Z" fill="url(#h2)"/><path d="M1266.10,613.39L1272.72,606.92L1251.55,597.86L1244.93,605.00Z" fill="url(#h5)"/><path d="M1244.93,605.00L1251.55,597.86L1230.38,588.80L1223.77,596.60Z" fill="url(#h7)"/><path d="M1223.77,596.60L1230.38,588.80L1209.22,579.74L1202.60,588.21Z" fill="url(#h9)"/><path d="M1202.60,588.21L1209.22,579.74L1188.05,570.68L1181.43,579.81Z" fill="url(#h11)"/><path d="M1181.43,579.81L1188.05,570.68L1166.88,561.62L1160.27,571.42Z" fill="url(#h13)"/><path d="M1160.27,571.42L1166.88,561.62L1145.72,552.56L1139.10,563.03Z" fill="url(#h14)"/><path d="M1139.10,563.03L1145.72,552.56L1124.55,543.50L1117.93,554.63Z" fill="url(#h15)"/><path d="M1117.93,554.63L1124.55,543.50L1103.38,534.44L1096.77,546.24Z" fill="url(#h16)"/><path d="M1096.77,546.24L1103.38,534.44L1082.22,525.38L1075.60,537.85Z" fill="url(#h17)"/><path d="M1075.60,537.85L1082.22,525.38L1061.05,516.32L1054.43,529.45Z" fill="url(#h18)"/><path d="M1054.43,529.45L1061.05,516.32L1018.72,498.20L1012.10,512.66Z" fill="url(#h19)"/><path d="M1012.10,512.66L1018.72,498.20L976.38,480.08L969.77,495.88Z" fill="url(#h20)"/><path d="M969.77,495.88L976.38,480.08L934.05,461.96L927.43,479.09Z" fill="url(#h21)"/><path d="M927.43,479.09L934.05,461.96L912.88,452.89L906.27,470.70Z" fill="url(#h22)"/><path d="M1407.65,673.94L1414.27,672.15L906.27,470.70L899.65,488.41Z" fill="url(#g87)"/><path d="M1280.65,627.56L1287.27,621.78L1266.10,613.39L1259.48,619.83Z" fill="url(#h1)"/><path d="M1259.48,619.83L1266.10,613.39L1244.93,605.00L1238.32,612.10Z" fill="url(#h4)"/><path d="M1238.32,612.10L1244.93,605.00L1223.77,596.60L1217.15,604.37Z" fill="url(#h6)"/><path d="M1217.15,604.37L1223.77,596.60L1202.60,588.21L1195.98,596.64Z" fill="url(#h8)"/><path d="M1195.98,596.64L1202.60,588.21L1181.43,579.81L1174.82,588.91Z" fill="url(#h10)"/><path d="M1174.82,588.91L1181.43,579.81L1160.27,571.42L1153.65,581.18Z" fill="url(#h12)"/><path d="M1153.65,581.18L1160.27,571.42L1139.10,563.03L1132.48,573.45Z" fill="url(#h13)"/><path d="M1132.48,573.45L1139.10,563.03L1117.93,554.63L1111.32,565.71Z" fill="url(#h14)"/><path d="M1111.32,565.71L1117.93,554.63L1096.77,546.24L1090.15,557.98Z" fill="url(#h15)"/><path d="M1090.15,557.98L1096.77,546.24L1075.60,537.85L1068.98,550.25Z" fill="url(#h16)"/><path d="M1068.98,550.25L1075.60,537.85L1054.43,529.45L1047.82,542.52Z" fill="url(#h17)"/><path d="M1047.82,542.52L1054.43,529.45L1033.27,521.06L1026.65,534.79Z" fill="url(#h18)"/><path d="M1026.65,534.79L1033.27,521.06L990.93,504.27L984.32,519.33Z" fill="url(#h19)"/><path d="M984.32,519.33L990.93,504.27L948.60,487.48L941.98,503.87Z" fill="url(#h20)"/><path d="M941.98,503.87L948.60,487.48L906.27,470.70L899.65,488.41Z" fill="url(#h21)"/><path d="M1401.03,675.74L1407.65,673.94L899.65,488.41L893.03,505.99Z" fill="url(#g86)"/><path d="M1252.87,626.23L1259.48,619.83L1238.32,612.10L1231.70,619.16Z" fill="url(#h3)"/><path d="M1231.70,619.16L1238.32,612.10L1217.15,604.37L1210.53,612.09Z" fill="url(#h5)"/><path d="M1210.53,612.09L1217.15,604.37L1195.98,596.64L1189.37,605.01Z" fill="url(#h8)"/><path d="M1189.37,605.01L1195.98,596.64L1174.82,588.91L1168.20,597.94Z" fill="url(#h9)"/><path d="M1168.20,597.94L1174.82,588.91L1153.65,581.18L1147.03,590.87Z" fill="url(#h11)"/><path d="M1147.03,590.87L1153.65,581.18L1132.48,573.45L1125.87,583.79Z" fill="url(#h12)"/><path d="M1125.87,583.79L1132.48,573.45L1111.32,565.71L1104.70,576.72Z" fill="url(#h14)"/><path d="M1104.70,576.72L1111.32,565.71L1090.15,557.98L1083.53,569.65Z" fill="url(#h15)"/><path d="M1083.53,569.65L1090.15,557.98L1068.98,550.25L1062.37,562.57Z" fill="url(#h16)"/><path d="M1062.37,562.57L1068.98,550.25L1026.65,534.79L1020.03,548.43Z" fill="url(#h17)"/><path d="M1020.03,548.43L1026.65,534.79L1005.48,527.06L998.87,541.35Z" fill="url(#h18)"/><path d="M998.87,541.35L1005.48,527.06L963.15,511.60L956.53,527.21Z" fill="url(#h19)"/><path d="M956.53,527.21L963.15,511.60L920.82,496.14L914.20,513.06Z" fill="url(#h20)"/><path d="M914.20,513.06L920.82,496.14L899.65,488.41L893.03,505.99Z" fill="url(#h21)"/><path d="M1394.42,677.54L1401.03,675.74L893.03,505.99L886.42,523.40Z" fill="url(#g85)"/><path d="M1246.25,632.58L1252.87,626.23L1231.70,619.16L1225.08,626.16Z" fill="url(#h2)"/><path d="M1225.08,626.16L1231.70,619.16L1210.53,612.09L1203.92,619.74Z" fill="url(#h4)"/><path d="M1203.92,619.74L1210.53,612.09L1189.37,605.01L1182.75,613.31Z" fill="url(#h7)"/><path d="M1182.75,613.31L1189.37,605.01L1168.20,597.94L1161.58,606.89Z" fill="url(#h8)"/><path d="M1161.58,606.89L1168.20,597.94L1147.03,590.87L1140.42,600.47Z" fill="url(#h10)"/><path d="M1140.42,600.47L1147.03,590.87L1125.87,583.79L1119.25,594.05Z" fill="url(#h12)"/><path d="M1119.25,594.05L1125.87,583.79L1104.70,576.72L1098.08,587.62Z" fill="url(#h13)"/><path d="M1098.08,587.62L1104.70,576.72L1083.53,569.65L1076.92,581.20Z" fill="url(#h14)"/><path d="M1076.92,581.20L1083.53,569.65L1062.37,562.57L1055.75,574.78Z" fill="url(#h15)"/><path d="M1055.75,574.78L1062.37,562.57L1041.20,555.50L1034.58,568.35Z" fill="url(#h16)"/><path d="M1034.58,568.35L1041.20,555.50L1020.03,548.43L1013.42,561.93Z" fill="url(#h17)"/><path d="M1013.42,561.93L1020.03,548.43L977.70,534.28L971.08,549.09Z" fill="url(#h18)"/><path d="M971.08,549.09L977.70,534.28L935.37,520.14L928.75,536.24Z" fill="url(#h19)"/><path d="M928.75,536.24L935.37,520.14L893.03,505.99L886.42,523.40Z" fill="url(#h20)"/><path d="M1387.80,679.34L1394.42,677.54L886.42,523.40L879.80,540.58Z" fill="url(#g84)"/><path d="M1218.47,633.09L1225.08,626.16L1203.92,619.74L1197.30,627.31Z" fill="url(#h3)"/><path d="M1197.30,627.31L1203.92,619.74L1182.75,613.31L1176.13,621.53Z" fill="url(#h5)"/><path d="M1176.13,621.53L1182.75,613.31L1161.58,606.89L1154.97,615.74Z" fill="url(#h7)"/><path d="M1154.97,615.74L1161.58,606.89L1140.42,600.47L1133.80,609.96Z" fill="url(#h9)"/><path d="M1133.80,609.96L1140.42,600.47L1119.25,594.05L1112.63,604.18Z" fill="url(#h11)"/><path d="M1112.63,604.18L1119.25,594.05L1098.08,587.62L1091.47,598.40Z" fill="url(#h12)"/><path d="M1091.47,598.40L1098.08,587.62L1076.92,581.20L1070.30,592.62Z" fill="url(#h13)"/><path d="M1070.30,592.62L1076.92,581.20L1055.75,574.78L1049.13,586.84Z" fill="url(#h14)"/><path d="M1049.13,586.84L1055.75,574.78L1034.58,568.35L1027.97,581.05Z" fill="url(#h15)"/><path d="M1027.97,581.05L1034.58,568.35L1013.42,561.93L1006.80,575.27Z" fill="url(#h16)"/><path d="M1006.80,575.27L1013.42,561.93L992.25,555.51L985.63,569.49Z" fill="url(#h17)"/><path d="M985.63,569.49L992.25,555.51L949.92,542.66L943.30,557.93Z" fill="url(#h18)"/><path d="M943.30,557.93L949.92,542.66L907.58,529.82L900.97,546.37Z" fill="url(#h19)"/><path d="M900.97,546.37L907.58,529.82L886.42,523.40L879.80,540.58Z" fill="url(#h20)"/><path d="M1381.18,681.14L1387.80,679.34L879.80,540.58L873.18,557.51Z" fill="url(#g83)"/><path d="M1211.85,639.93L1218.47,633.09L1197.30,627.31L1190.68,634.78Z" fill="url(#h2)"/><path d="M1190.68,634.78L1197.30,627.31L1176.13,621.53L1169.52,629.63Z" fill="url(#h4)"/><path d="M1169.52,629.63L1176.13,621.53L1154.97,615.74L1148.35,624.48Z" fill="url(#h6)"/><path d="M1148.35,624.48L1154.97,615.74L1133.80,609.96L1127.18,619.33Z" fill="url(#h8)"/><path d="M1127.18,619.33L1133.80,609.96L1112.63,604.18L1106.02,614.18Z" fill="url(#h10)"/><path d="M1106.02,614.18L1112.63,604.18L1091.47,598.40L1084.85,609.02Z" fill="url(#h11)"/><path d="M1084.85,609.02L1091.47,598.40L1070.30,592.62L1063.68,603.87Z" fill="url(#h12)"/><path d="M1063.68,603.87L1070.30,592.62L1049.13,586.84L1042.52,598.72Z" fill="url(#h13)"/><path d="M1042.52,598.72L1049.13,586.84L1027.97,581.05L1021.35,593.57Z" fill="url(#h14)"/><path d="M1021.35,593.57L1027.97,581.05L1006.80,575.27L1000.18,588.42Z" fill="url(#h15)"/><path d="M1000.18,588.42L1006.80,575.27L985.63,569.49L979.02,583.27Z" fill="url(#h16)"/><path d="M979.02,583.27L985.63,569.49L964.47,563.71L957.85,578.12Z" fill="url(#h17)"/><path d="M957.85,578.12L964.47,563.71L922.13,552.15L915.52,567.82Z" fill="url(#h18)"/><path d="M915.52,567.82L922.13,552.15L879.80,540.58L873.18,557.51Z" fill="url(#h19)"/><path d="M1374.57,682.94L1381.18,681.14L873.18,557.51L866.57,574.14Z" fill="url(#g82)"/><path d="M1184.07,642.14L1190.68,634.78L1169.52,629.63L1162.90,637.61Z" fill="url(#h3)"/><path d="M1162.90,637.61L1169.52,629.63L1148.35,624.48L1141.73,633.07Z" fill="url(#h5)"/><path d="M1141.73,633.07L1148.35,624.48L1127.18,619.33L1120.57,628.54Z" fill="url(#h7)"/><path d="M1120.57,628.54L1127.18,619.33L1106.02,614.18L1099.40,624.01Z" fill="url(#h9)"/><path d="M1099.40,624.01L1106.02,614.18L1084.85,609.02L1078.23,619.47Z" fill="url(#h10)"/><path d="M1078.23,619.47L1084.85,609.02L1063.68,603.87L1057.07,614.94Z" fill="url(#h11)"/><path d="M1057.07,614.94L1063.68,603.87L1042.52,598.72L1035.90,610.41Z" fill="url(#h13)"/><path d="M1035.90,610.41L1042.52,598.72L1021.35,593.57L1014.73,605.87Z" fill="url(#h14)"/><path d="M1014.73,605.87L1021.35,593.57L979.02,583.27L972.40,596.81Z" fill="url(#h15)"/><path d="M972.40,596.81L979.02,583.27L957.85,578.12L951.23,592.27Z" fill="url(#h16)"/><path d="M951.23,592.27L957.85,578.12L915.52,567.82L908.90,583.21Z" fill="url(#h17)"/><path d="M908.90,583.21L915.52,567.82L894.35,562.66L887.73,578.68Z" fill="url(#h18)"/><path d="M887.73,578.68L894.35,562.66L873.18,557.51L866.57,574.14Z" fill="url(#h19)"/><path d="M1367.95,684.73L1374.57,682.94L866.57,574.14L859.95,590.43Z" fill="url(#g81)"/><path d="M1177.45,649.37L1184.07,642.14L1162.90,637.61L1156.28,645.44Z" fill="url(#h2)"/><path d="M1156.28,645.44L1162.90,637.61L1141.73,633.07L1135.12,641.51Z" fill="url(#h4)"/><path d="M1135.12,641.51L1141.73,633.07L1120.57,628.54L1113.95,637.58Z" fill="url(#h6)"/><path d="M1113.95,637.58L1120.57,628.54L1099.40,624.01L1092.78,633.65Z" fill="url(#h8)"/><path d="M1092.78,633.65L1099.40,624.01L1078.23,619.47L1071.62,629.72Z" fill="url(#h9)"/><path d="M1071.62,629.72L1078.23,619.47L1057.07,614.94L1050.45,625.79Z" fill="url(#h10)"/><path d="M1050.45,625.79L1057.07,614.94L1035.90,610.41L1029.28,621.86Z" fill="url(#h12)"/><path d="M1029.28,621.86L1035.90,610.41L1014.73,605.87L1008.12,617.93Z" fill="url(#h13)"/><path d="M1008.12,617.93L1014.73,605.87L993.57,601.34L986.95,614.01Z" fill="url(#h14)"/><path d="M986.95,614.01L993.57,601.34L951.23,592.27L944.62,606.15Z" fill="url(#h15)"/><path d="M944.62,606.15L951.23,592.27L930.07,587.74L923.45,602.22Z" fill="url(#h16)"/><path d="M923.45,602.22L930.07,587.74L887.73,578.68L881.12,594.36Z" fill="url(#h17)"/><path d="M881.12,594.36L887.73,578.68L866.57,574.14L859.95,590.43Z" fill="url(#h18)"/><path d="M1361.33,686.53L1367.95,684.73L859.95,590.43L853.33,606.33Z" fill="url(#g80)"/><path d="M1149.67,653.12L1156.28,645.44L1135.12,641.51L1128.50,649.77Z" fill="url(#h3)"/><path d="M1128.50,649.77L1135.12,641.51L1113.95,637.58L1107.33,646.43Z" fill="url(#h5)"/><path d="M1107.33,646.43L1113.95,637.58L1092.78,633.65L1086.17,643.09Z" fill="url(#h6)"/><path d="M1086.17,643.09L1092.78,633.65L1071.62,629.72L1065.00,639.75Z" fill="url(#h8)"/><path d="M1065.00,639.75L1071.62,629.72L1050.45,625.79L1043.83,636.41Z" fill="url(#h9)"/><path d="M1043.83,636.41L1050.45,625.79L1029.28,621.86L1022.67,633.07Z" fill="url(#h11)"/><path d="M1022.67,633.07L1029.28,621.86L1008.12,617.93L1001.50,629.73Z" fill="url(#h12)"/><path d="M1001.50,629.73L1008.12,617.93L986.95,614.01L980.33,626.38Z" fill="url(#h13)"/><path d="M980.33,626.38L986.95,614.01L965.78,610.08L959.17,623.04Z" fill="url(#h14)"/><path d="M959.17,623.04L965.78,610.08L923.45,602.22L916.83,616.36Z" fill="url(#h15)"/><path d="M916.83,616.36L923.45,602.22L902.28,598.29L895.67,613.02Z" fill="url(#h16)"/><path d="M895.67,613.02L902.28,598.29L859.95,590.43L853.33,606.33Z" fill="url(#h17)"/><path d="M1354.72,688.33L1361.33,686.53L853.33,606.33L846.72,621.82Z" fill="url(#g79)"/><path d="M1143.05,660.62L1149.67,653.12L1128.50,649.77L1121.88,657.85Z" fill="url(#h1)"/><path d="M1121.88,657.85L1128.50,649.77L1107.33,646.43L1100.72,655.07Z" fill="url(#h3)"/><path d="M1100.72,655.07L1107.33,646.43L1086.17,643.09L1079.55,652.30Z" fill="url(#h5)"/><path d="M1079.55,652.30L1086.17,643.09L1065.00,639.75L1058.38,649.53Z" fill="url(#h7)"/><path d="M1058.38,649.53L1065.00,639.75L1043.83,636.41L1037.22,646.76Z" fill="url(#h8)"/><path d="M1037.22,646.76L1043.83,636.41L1022.67,633.07L1016.05,643.99Z" fill="url(#h10)"/><path d="M1016.05,643.99L1022.67,633.07L1001.50,629.73L994.88,641.22Z" fill="url(#h11)"/><path d="M994.88,641.22L1001.50,629.73L980.33,626.38L973.72,638.45Z" fill="url(#h12)"/><path d="M973.72,638.45L980.33,626.38L959.17,623.04L952.55,635.68Z" fill="url(#h13)"/><path d="M952.55,635.68L959.17,623.04L916.83,616.36L910.22,630.13Z" fill="url(#h14)"/><path d="M910.22,630.13L916.83,616.36L895.67,613.02L889.05,627.36Z" fill="url(#h15)"/><path d="M889.05,627.36L895.67,613.02L853.33,606.33L846.72,621.82Z" fill="url(#h16)"/><path d="M1348.10,690.13L1354.72,688.33L846.72,621.82L840.10,636.84Z" fill="url(#g78)"/><path d="M1115.27,665.71L1121.88,657.85L1100.72,655.07L1094.10,663.49Z" fill="url(#h2)"/><path d="M1094.10,663.49L1100.72,655.07L1079.55,652.30L1072.93,661.27Z" fill="url(#h4)"/><path d="M1072.93,661.27L1079.55,652.30L1058.38,649.53L1051.77,659.05Z" fill="url(#h5)"/><path d="M1051.77,659.05L1058.38,649.53L1037.22,646.76L1030.60,656.83Z" fill="url(#h7)"/><path d="M1030.60,656.83L1037.22,646.76L1016.05,643.99L1009.43,654.61Z" fill="url(#h8)"/><path d="M1009.43,654.61L1016.05,643.99L994.88,641.22L988.27,652.39Z" fill="url(#h10)"/><path d="M988.27,652.39L994.88,641.22L973.72,638.45L967.10,650.17Z" fill="url(#h11)"/><path d="M967.10,650.17L973.72,638.45L952.55,635.68L945.93,647.95Z" fill="url(#h12)"/><path d="M945.93,647.95L952.55,635.68L910.22,630.13L903.60,643.51Z" fill="url(#h13)"/><path d="M903.60,643.51L910.22,630.13L889.05,627.36L882.43,641.29Z" fill="url(#h14)"/><path d="M882.43,641.29L889.05,627.36L846.72,621.82L840.10,636.84Z" fill="url(#h15)"/><path d="M1341.48,691.93L1348.10,690.13L840.10,636.84L833.48,651.38Z" fill="url(#g77)"/><path d="M1087.48,671.65L1094.10,663.49L1072.93,661.27L1066.32,669.96Z" fill="url(#h2)"/><path d="M1066.32,669.96L1072.93,661.27L1051.77,659.05L1045.15,668.27Z" fill="url(#h4)"/><path d="M1045.15,668.27L1051.77,659.05L1030.60,656.83L1023.98,666.58Z" fill="url(#h6)"/><path d="M1023.98,666.58L1030.60,656.83L1009.43,654.61L1002.82,664.89Z" fill="url(#h7)"/><path d="M1002.82,664.89L1009.43,654.61L988.27,652.39L981.65,663.21Z" fill="url(#h8)"/><path d="M981.65,663.21L988.27,652.39L967.10,650.17L960.48,661.52Z" fill="url(#h9)"/><path d="M960.48,661.52L967.10,650.17L945.93,647.95L939.32,659.83Z" fill="url(#h10)"/><path d="M939.32,659.83L945.93,647.95L924.77,645.73L918.15,658.14Z" fill="url(#h11)"/><path d="M918.15,658.14L924.77,645.73L903.60,643.51L896.98,656.45Z" fill="url(#h12)"/><path d="M896.98,656.45L903.60,643.51L882.43,641.29L875.82,654.76Z" fill="url(#h13)"/><path d="M875.82,654.76L882.43,641.29L861.27,639.07L854.65,653.07Z" fill="url(#h14)"/><path d="M854.65,653.07L861.27,639.07L840.10,636.84L833.48,651.38Z" fill="url(#h15)"/><path d="M1334.87,693.73L1341.48,691.93L833.48,651.38L826.87,665.38Z" fill="url(#g76)"/><path d="M1080.87,679.55L1087.48,671.65L1066.32,669.96L1059.70,678.37Z" fill="url(#h1)"/><path d="M1059.70,678.37L1066.32,669.96L1045.15,668.27L1038.53,677.19Z" fill="url(#h2)"/><path d="M1038.53,677.19L1045.15,668.27L1023.98,666.58L1017.37,676.01Z" fill="url(#h4)"/><path d="M1017.37,676.01L1023.98,666.58L1002.82,664.89L996.20,674.83Z" fill="url(#h6)"/><path d="M996.20,674.83L1002.82,664.89L981.65,663.21L975.03,673.65Z" fill="url(#h7)"/><path d="M975.03,673.65L981.65,663.21L960.48,661.52L953.87,672.47Z" fill="url(#h8)"/><path d="M953.87,672.47L960.48,661.52L939.32,659.83L932.70,671.29Z" fill="url(#h9)"/><path d="M932.70,671.29L939.32,659.83L918.15,658.14L911.53,670.11Z" fill="url(#h10)"/><path d="M911.53,670.11L918.15,658.14L896.98,656.45L890.37,668.93Z" fill="url(#h11)"/><path d="M890.37,668.93L896.98,656.45L875.82,654.76L869.20,667.74Z" fill="url(#h12)"/><path d="M869.20,667.74L875.82,654.76L833.48,651.38L826.87,665.38Z" fill="url(#h13)"/><path d="M1328.25,695.52L1334.87,693.73L826.87,665.38L820.25,678.82Z" fill="url(#g75)"/><path d="M1053.08,686.48L1059.70,678.37L1038.53,677.19L1031.92,685.78Z" fill="url(#h1)"/><path d="M1031.92,685.78L1038.53,677.19L1017.37,676.01L1010.75,685.09Z" fill="url(#h2)"/><path d="M1010.75,685.09L1017.37,676.01L996.20,674.83L989.58,684.39Z" fill="url(#h4)"/><path d="M989.58,684.39L996.20,674.83L975.03,673.65L968.42,683.70Z" fill="url(#h5)"/><path d="M968.42,683.70L975.03,673.65L953.87,672.47L947.25,683.00Z" fill="url(#h7)"/><path d="M947.25,683.00L953.87,672.47L932.70,671.29L926.08,682.30Z" fill="url(#h8)"/><path d="M926.08,682.30L932.70,671.29L911.53,670.11L904.92,681.61Z" fill="url(#h9)"/><path d="M904.92,681.61L911.53,670.11L890.37,668.93L883.75,680.91Z" fill="url(#h10)"/><path d="M883.75,680.91L890.37,668.93L869.20,667.74L862.58,680.22Z" fill="url(#h11)"/><path d="M862.58,680.22L869.20,667.74L826.87,665.38L820.25,678.82Z" fill="url(#h12)"/><path d="M1321.63,697.32L1328.25,695.52L820.25,678.82L813.63,691.67Z" fill="url(#g74)"/><path d="M1025.30,694.03L1031.92,685.78L1010.75,685.09L1004.13,693.79Z" fill="url(#h1)"/><path d="M1004.13,693.79L1010.75,685.09L989.58,684.39L982.97,693.56Z" fill="url(#h2)"/><path d="M982.97,693.56L989.58,684.39L968.42,683.70L961.80,693.32Z" fill="url(#h4)"/><path d="M961.80,693.32L968.42,683.70L947.25,683.00L940.63,693.08Z" fill="url(#h5)"/><path d="M940.63,693.08L947.25,683.00L926.08,682.30L919.47,692.85Z" fill="url(#h6)"/><path d="M919.47,692.85L926.08,682.30L904.92,681.61L898.30,692.61Z" fill="url(#h7)"/><path d="M898.30,692.61L904.92,681.61L883.75,680.91L877.13,692.38Z" fill="url(#h8)"/><path d="M877.13,692.38L883.75,680.91L862.58,680.22L855.97,692.14Z" fill="url(#h9)"/><path d="M855.97,692.14L862.58,680.22L841.42,679.52L834.80,691.91Z" fill="url(#h10)"/><path d="M834.80,691.91L841.42,679.52L820.25,678.82L813.63,691.67Z" fill="url(#h11)"/><path d="M1315.02,699.12L1321.63,697.32L813.63,691.67L807.02,703.89Z" fill="url(#g73)"/><path d="M976.35,702.30L982.97,693.56L961.80,693.32L955.18,702.50Z" fill="url(#h2)"/><path d="M955.18,702.50L961.80,693.32L940.63,693.08L934.02,702.70Z" fill="url(#h3)"/><path d="M934.02,702.70L940.63,693.08L919.47,692.85L912.85,702.90Z" fill="url(#h4)"/><path d="M912.85,702.90L919.47,692.85L898.30,692.61L891.68,703.10Z" fill="url(#h6)"/><path d="M891.68,703.10L898.30,692.61L877.13,692.38L870.52,703.30Z" fill="url(#h7)"/><path d="M870.52,703.30L877.13,692.38L855.97,692.14L849.35,703.50Z" fill="url(#h8)"/><path d="M849.35,703.50L855.97,692.14L813.63,691.67L807.02,703.89Z" fill="url(#h9)"/><path d="M1308.40,700.92L1315.02,699.12L807.02,703.89L800.40,715.46Z" fill="url(#g72)"/><path d="M948.57,711.22L955.18,702.50L934.02,702.70L927.40,711.83Z" fill="url(#h1)"/><path d="M927.40,711.83L934.02,702.70L912.85,702.90L906.23,712.43Z" fill="url(#h3)"/><path d="M906.23,712.43L912.85,702.90L891.68,703.10L885.07,713.04Z" fill="url(#h4)"/><path d="M885.07,713.04L891.68,703.10L870.52,703.30L863.90,713.65Z" fill="url(#h5)"/><path d="M863.90,713.65L870.52,703.30L849.35,703.50L842.73,714.25Z" fill="url(#h6)"/><path d="M842.73,714.25L849.35,703.50L828.18,703.70L821.57,714.86Z" fill="url(#h7)"/><path d="M821.57,714.86L828.18,703.70L807.02,703.89L800.40,715.46Z" fill="url(#h8)"/><path d="M1301.78,702.72L1308.40,700.92L800.40,715.46L793.78,726.35Z" fill="url(#g71)"/><path d="M899.62,721.43L906.23,712.43L885.07,713.04L878.45,722.42Z" fill="url(#h2)"/><path d="M878.45,722.42L885.07,713.04L863.90,713.65L857.28,723.40Z" fill="url(#h3)"/><path d="M857.28,723.40L863.90,713.65L842.73,714.25L836.12,724.39Z" fill="url(#h4)"/><path d="M836.12,724.39L842.73,714.25L821.57,714.86L814.95,725.37Z" fill="url(#h5)"/><path d="M814.95,725.37L821.57,714.86L800.40,715.46L793.78,726.35Z" fill="url(#h6)"/><path d="M1295.17,704.52L1301.78,702.72L793.78,726.35L787.17,736.54Z" fill="url(#g70)"/><path d="M871.83,731.20L878.45,722.42L857.28,723.40L850.67,732.54Z" fill="url(#h1)"/><path d="M850.67,732.54L857.28,723.40L836.12,724.39L829.50,733.87Z" fill="url(#h2)"/><path d="M829.50,733.87L836.12,724.39L814.95,725.37L808.33,735.21Z" fill="url(#h3)"/><path d="M808.33,735.21L814.95,725.37L793.78,726.35L787.17,736.54Z" fill="url(#h4)"/><path d="M1288.55,706.31L1295.17,704.52L787.17,736.54L780.55,746.00Z" fill="url(#g69)"/><path d="M801.72,744.34L808.33,735.21L787.17,736.54L780.55,746.00Z" fill="url(#h1)"/><path d="M1281.93,708.11L1288.55,706.31L780.55,746.00L773.93,754.71Z" fill="url(#g68)"/><path d="M1275.32,709.91L1281.93,708.11L773.93,754.71L767.32,762.65Z" fill="url(#g67)"/><path d="M1268.70,711.71L1275.32,709.91L767.32,762.65L760.70,769.80Z" fill="url(#g66)"/><path d="M1262.08,713.51L1268.70,711.71L760.70,769.80L754.08,776.16Z" fill="url(#g65)"/><path d="M1255.47,715.31L1262.08,713.51L754.08,776.16L747.47,781.71Z" fill="url(#g64)"/><path d="M1248.85,717.11L1255.47,715.31L747.47,781.71L740.85,786.43Z" fill="url(#g63)"/><path d="M1242.23,718.90L1248.85,717.11L740.85,786.43L734.23,790.32Z" fill="url(#g62)"/><path d="M1235.62,720.70L1242.23,718.90L734.23,790.32L727.62,793.38Z" fill="url(#g61)"/><path d="M1229.00,722.50L1235.62,720.70L727.62,793.38L721.00,795.60Z" fill="url(#g60)"/><path d="M1222.38,724.30L1229.00,722.50L721.00,795.60L714.38,796.98Z" fill="url(#g59)"/><path d="M1215.77,726.10L1222.38,724.30L714.38,796.98L707.77,797.52Z" fill="url(#g58)"/><path d="M1209.15,727.89L1215.77,726.10L707.77,797.52L701.15,797.22Z" fill="url(#g57)"/><path d="M1202.53,729.69L1209.15,727.89L701.15,797.22L694.53,796.09Z" fill="url(#g56)"/><path d="M1195.92,731.49L1202.53,729.69L694.53,796.09L687.92,794.14Z" fill="url(#g55)"/><path d="M1189.30,733.29L1195.92,731.49L687.92,794.14L681.30,791.38Z" fill="url(#g54)"/><path d="M1182.68,735.09L1189.30,733.29L681.30,791.38L674.68,787.82Z" fill="url(#g53)"/><path d="M1176.07,736.89L1182.68,735.09L674.68,787.82L668.07,783.48Z" fill="url(#g52)"/><path d="M1169.45,738.68L1176.07,736.89L668.07,783.48L661.45,778.37Z" fill="url(#g51)"/><path d="M1162.83,740.48L1169.45,738.68L661.45,778.37L654.83,772.51Z" fill="url(#g50)"/><path d="M1156.22,742.28L1162.83,740.48L654.83,772.51L648.22,765.92Z" fill="url(#g49)"/><path d="M1149.60,744.08L1156.22,742.28L648.22,765.92L641.60,758.62Z" fill="url(#g48)"/><path d="M1142.98,745.88L1149.60,744.08L641.60,758.62L634.98,750.65Z" fill="url(#g47)"/><path d="M1136.37,747.68L1142.98,745.88L634.98,750.65L628.37,742.02Z" fill="url(#g46)"/><path d="M1129.75,749.47L1136.37,747.68L628.37,742.02L621.75,732.77Z" fill="url(#g45)"/><path d="M642.92,733.47L649.53,742.26L628.37,742.02L621.75,732.77Z" fill="url(#h1)"/><path d="M1123.13,751.27L1129.75,749.47L621.75,732.77L615.13,722.93Z" fill="url(#g44)"/><path d="M657.47,725.29L664.08,734.17L642.92,733.47L636.30,724.11Z" fill="url(#h1)"/><path d="M636.30,724.11L642.92,733.47L621.75,732.77L615.13,722.93Z" fill="url(#h3)"/><path d="M1116.52,753.07L1123.13,751.27L615.13,722.93L608.52,712.52Z" fill="url(#g43)"/><path d="M672.02,717.59L678.63,726.47L657.47,725.29L650.85,715.90Z" fill="url(#h1)"/><path d="M650.85,715.90L657.47,725.29L636.30,724.11L629.68,714.21Z" fill="url(#h2)"/><path d="M629.68,714.21L636.30,724.11L615.13,722.93L608.52,712.52Z" fill="url(#h4)"/><path d="M1109.90,754.87L1116.52,753.07L608.52,712.52L601.90,701.58Z" fill="url(#g42)"/><path d="M665.40,708.25L672.02,717.59L650.85,715.90L644.23,706.03Z" fill="url(#h2)"/><path d="M644.23,706.03L650.85,715.90L629.68,714.21L623.07,703.81Z" fill="url(#h3)"/><path d="M623.07,703.81L629.68,714.21L608.52,712.52L601.90,701.58Z" fill="url(#h5)"/><path d="M1103.28,756.67L1109.90,754.87L601.90,701.58L595.28,690.15Z" fill="url(#g41)"/><path d="M679.95,701.24L686.57,710.47L665.40,708.25L658.78,698.47Z" fill="url(#h1)"/><path d="M658.78,698.47L665.40,708.25L644.23,706.03L637.62,695.70Z" fill="url(#h3)"/><path d="M637.62,695.70L644.23,706.03L623.07,703.81L616.45,692.93Z" fill="url(#h4)"/><path d="M616.45,692.93L623.07,703.81L601.90,701.58L595.28,690.15Z" fill="url(#h5)"/><path d="M1096.67,758.47L1103.28,756.67L595.28,690.15L588.67,678.27Z" fill="url(#g40)"/><path d="M673.33,691.63L679.95,701.24L658.78,698.47L652.17,688.29Z" fill="url(#h1)"/><path d="M652.17,688.29L658.78,698.47L637.62,695.70L631.00,684.95Z" fill="url(#h3)"/><path d="M631.00,684.95L637.62,695.70L616.45,692.93L609.83,681.61Z" fill="url(#h5)"/><path d="M609.83,681.61L616.45,692.93L595.28,690.15L588.67,678.27Z" fill="url(#h6)"/><path d="M1090.05,760.26L1096.67,758.47L588.67,678.27L582.05,665.96Z" fill="url(#g39)"/><path d="M666.72,681.68L673.33,691.63L652.17,688.29L645.55,677.75Z" fill="url(#h2)"/><path d="M645.55,677.75L652.17,688.29L631.00,684.95L624.38,673.82Z" fill="url(#h4)"/><path d="M624.38,673.82L631.00,684.95L609.83,681.61L603.22,669.89Z" fill="url(#h5)"/><path d="M603.22,669.89L609.83,681.61L588.67,678.27L582.05,665.96Z" fill="url(#h6)"/><path d="M1083.43,762.06L1090.05,760.26L582.05,665.96L575.43,653.27Z" fill="url(#g38)"/><path d="M681.27,675.93L687.88,685.61L666.72,681.68L660.10,671.40Z" fill="url(#h1)"/><path d="M660.10,671.40L666.72,681.68L645.55,677.75L638.93,666.87Z" fill="url(#h2)"/><path d="M638.93,666.87L645.55,677.75L624.38,673.82L617.77,662.34Z" fill="url(#h4)"/><path d="M617.77,662.34L624.38,673.82L603.22,669.89L596.60,657.80Z" fill="url(#h5)"/><path d="M596.60,657.80L603.22,669.89L582.05,665.96L575.43,653.27Z" fill="url(#h6)"/><path d="M1076.82,763.86L1083.43,762.06L575.43,653.27L568.82,640.24Z" fill="url(#g37)"/><path d="M674.65,665.99L681.27,675.93L660.10,671.40L653.48,660.84Z" fill="url(#h1)"/><path d="M653.48,660.84L660.10,671.40L638.93,666.87L632.32,655.69Z" fill="url(#h2)"/><path d="M632.32,655.69L638.93,666.87L617.77,662.34L611.15,650.54Z" fill="url(#h4)"/><path d="M611.15,650.54L617.77,662.34L596.60,657.80L589.98,645.39Z" fill="url(#h5)"/><path d="M589.98,645.39L596.60,657.80L575.43,653.27L568.82,640.24Z" fill="url(#h7)"/><path d="M1070.20,765.66L1076.82,763.86L568.82,640.24L562.20,626.90Z" fill="url(#g36)"/><path d="M668.03,655.81L674.65,665.99L653.48,660.84L646.87,650.03Z" fill="url(#h1)"/><path d="M646.87,650.03L653.48,660.84L632.32,655.69L625.70,644.25Z" fill="url(#h3)"/><path d="M625.70,644.25L632.32,655.69L611.15,650.54L604.53,638.47Z" fill="url(#h4)"/><path d="M604.53,638.47L611.15,650.54L589.98,645.39L583.37,632.69Z" fill="url(#h5)"/><path d="M583.37,632.69L589.98,645.39L568.82,640.24L562.20,626.90Z" fill="url(#h7)"/><path d="M1063.58,767.46L1070.20,765.66L562.20,626.90L555.58,613.31Z" fill="url(#g35)"/><path d="M661.42,645.43L668.03,655.81L646.87,650.03L640.25,639.00Z" fill="url(#h1)"/><path d="M640.25,639.00L646.87,650.03L625.70,644.25L619.08,632.58Z" fill="url(#h2)"/><path d="M619.08,632.58L625.70,644.25L604.53,638.47L597.92,626.16Z" fill="url(#h4)"/><path d="M597.92,626.16L604.53,638.47L583.37,632.69L576.75,619.74Z" fill="url(#h5)"/><path d="M576.75,619.74L583.37,632.69L562.20,626.90L555.58,613.31Z" fill="url(#h6)"/><path d="M1056.97,769.26L1063.58,767.46L555.58,613.31L548.97,599.50Z" fill="url(#g34)"/><path d="M654.80,634.87L661.42,645.43L640.25,639.00L633.63,627.79Z" fill="url(#h1)"/><path d="M633.63,627.79L640.25,639.00L619.08,632.58L612.47,620.72Z" fill="url(#h2)"/><path d="M612.47,620.72L619.08,632.58L597.92,626.16L591.30,613.65Z" fill="url(#h4)"/><path d="M591.30,613.65L597.92,626.16L576.75,619.74L570.13,606.58Z" fill="url(#h5)"/><path d="M570.13,606.58L576.75,619.74L555.58,613.31L548.97,599.50Z" fill="url(#h6)"/><path d="M1050.35,771.05L1056.97,769.26L548.97,599.50L542.35,585.52Z" fill="url(#g33)"/><path d="M648.18,624.17L654.80,634.87L633.63,627.79L627.02,616.44Z" fill="url(#h1)"/><path d="M627.02,616.44L633.63,627.79L612.47,620.72L605.85,608.71Z" fill="url(#h2)"/><path d="M605.85,608.71L612.47,620.72L591.30,613.65L584.68,600.98Z" fill="url(#h4)"/><path d="M584.68,600.98L591.30,613.65L570.13,606.58L563.52,593.25Z" fill="url(#h5)"/><path d="M563.52,593.25L570.13,606.58L548.97,599.50L542.35,585.52Z" fill="url(#h6)"/><path d="M1043.73,772.85L1050.35,771.05L542.35,585.52L535.73,571.40Z" fill="url(#g32)"/><path d="M620.40,604.98L627.02,616.44L605.85,608.71L599.23,596.58Z" fill="url(#h2)"/><path d="M599.23,596.58L605.85,608.71L584.68,600.98L578.07,588.19Z" fill="url(#h3)"/><path d="M578.07,588.19L584.68,600.98L563.52,593.25L556.90,579.80Z" fill="url(#h5)"/><path d="M556.90,579.80L563.52,593.25L542.35,585.52L535.73,571.40Z" fill="url(#h6)"/><path d="M1037.12,774.65L1043.73,772.85L535.73,571.40L529.12,557.20Z" fill="url(#g31)"/><path d="M613.78,593.44L620.40,604.98L599.23,596.58L592.62,584.38Z" fill="url(#h2)"/><path d="M592.62,584.38L599.23,596.58L578.07,588.19L571.45,575.32Z" fill="url(#h3)"/><path d="M571.45,575.32L578.07,588.19L556.90,579.80L550.28,566.26Z" fill="url(#h4)"/><path d="M550.28,566.26L556.90,579.80L535.73,571.40L529.12,557.20Z" fill="url(#h5)"/><path d="M1030.50,776.45L1037.12,774.65L529.12,557.20L522.50,542.95Z" fill="url(#g30)"/><path d="M607.17,581.87L613.78,593.44L592.62,584.38L586.00,572.14Z" fill="url(#h1)"/><path d="M586.00,572.14L592.62,584.38L571.45,575.32L564.83,562.41Z" fill="url(#h2)"/><path d="M564.83,562.41L571.45,575.32L550.28,566.26L543.67,552.68Z" fill="url(#h4)"/><path d="M543.67,552.68L550.28,566.26L529.12,557.20L522.50,542.95Z" fill="url(#h5)"/><path d="M1023.88,778.25L1030.50,776.45L522.50,542.95L515.88,528.70Z" fill="url(#g29)"/><path d="M600.55,570.29L607.17,581.87L586.00,572.14L579.38,559.90Z" fill="url(#h1)"/><path d="M579.38,559.90L586.00,572.14L564.83,562.41L558.22,549.50Z" fill="url(#h2)"/><path d="M558.22,549.50L564.83,562.41L543.67,552.68L537.05,539.10Z" fill="url(#h3)"/><path d="M537.05,539.10L543.67,552.68L522.50,542.95L515.88,528.70Z" fill="url(#h4)"/><path d="M1017.27,780.05L1023.88,778.25L515.88,528.70L509.27,514.50Z" fill="url(#g28)"/><path d="M572.77,547.69L579.38,559.90L558.22,549.50L551.60,536.63Z" fill="url(#h1)"/><path d="M551.60,536.63L558.22,549.50L537.05,539.10L530.43,525.56Z" fill="url(#h3)"/><path d="M530.43,525.56L537.05,539.10L515.88,528.70L509.27,514.50Z" fill="url(#h4)"/><path d="M1010.65,781.85L1017.27,780.05L509.27,514.50L502.65,500.38Z" fill="url(#g27)"/><path d="M566.15,535.57L572.77,547.69L551.60,536.63L544.98,523.84Z" fill="url(#h1)"/><path d="M544.98,523.84L551.60,536.63L530.43,525.56L523.82,512.11Z" fill="url(#h2)"/><path d="M523.82,512.11L530.43,525.56L509.27,514.50L502.65,500.38Z" fill="url(#h3)"/><path d="M1004.03,783.64L1010.65,781.85L502.65,500.38L496.03,486.40Z" fill="url(#g26)"/><path d="M538.37,511.17L544.98,523.84L523.82,512.11L517.20,498.78Z" fill="url(#h1)"/><path d="M517.20,498.78L523.82,512.11L502.65,500.38L496.03,486.40Z" fill="url(#h2)"/><path d="M997.42,785.44L1004.03,783.64L496.03,486.40L489.42,472.59Z" fill="url(#g25)"/><path d="M531.75,498.66L538.37,511.17L517.20,498.78L510.58,485.62Z" fill="url(#h1)"/><path d="M510.58,485.62L517.20,498.78L496.03,486.40L489.42,472.59Z" fill="url(#h2)"/><path d="M990.80,787.24L997.42,785.44L489.42,472.59L482.80,459.00Z" fill="url(#g24)"/><path d="M503.97,472.67L510.58,485.62L489.42,472.59L482.80,459.00Z" fill="url(#h1)"/><path d="M984.18,789.04L990.80,787.24L482.80,459.00L476.18,445.66Z" fill="url(#g23)"/><path d="M977.57,790.84L984.18,789.04L476.18,445.66L469.57,432.63Z" fill="url(#g22)"/><path d="M970.95,792.63L977.57,790.84L469.57,432.63L462.95,419.94Z" fill="url(#g21)"/><path d="M964.33,794.43L970.95,792.63L462.95,419.94L456.33,407.63Z" fill="url(#g20)"/><path d="M957.72,796.23L964.33,794.43L456.33,407.63L449.72,395.75Z" fill="url(#g19)"/><path d="M951.10,798.03L957.72,796.23L449.72,395.75L443.10,384.32Z" fill="url(#g18)"/><path d="M944.48,799.83L951.10,798.03L443.10,384.32L436.48,373.38Z" fill="url(#g17)"/><path d="M937.87,801.63L944.48,799.83L436.48,373.38L429.87,362.97Z" fill="url(#g16)"/><path d="M931.25,803.42L937.87,801.63L429.87,362.97L423.25,353.13Z" fill="url(#g15)"/><path d="M924.63,805.22L931.25,803.42L423.25,353.13L416.63,343.88Z" fill="url(#g14)"/><path d="M918.02,807.02L924.63,805.22L416.63,343.88L410.02,335.25Z" fill="url(#g13)"/><path d="M911.40,808.82L918.02,807.02L410.02,335.25L403.40,327.28Z" fill="url(#g12)"/><path d="M904.78,810.62L911.40,808.82L403.40,327.28L396.78,319.98Z" fill="url(#g11)"/><path d="M898.17,812.42L904.78,810.62L396.78,319.98L390.17,313.39Z" fill="url(#g10)"/><path d="M891.55,814.22L898.17,812.42L390.17,313.39L383.55,307.53Z" fill="url(#g9)"/><path d="M884.93,816.01L891.55,814.22L383.55,307.53L376.93,302.42Z" fill="url(#g8)"/><path d="M878.32,817.81L884.93,816.01L376.93,302.42L370.32,298.08Z" fill="url(#g7)"/><path d="M871.70,819.61L878.32,817.81L370.32,298.08L363.70,294.52Z" fill="url(#g6)"/><path d="M865.08,821.41L871.70,819.61L363.70,294.52L357.08,291.76Z" fill="url(#g5)"/><path d="M858.47,823.21L865.08,821.41L357.08,291.76L350.47,289.81Z" fill="url(#g4)"/><path d="M851.85,825.00L858.47,823.21L350.47,289.81L343.85,288.68Z" fill="url(#g3)"/><path d="M845.23,826.80L851.85,825.00L343.85,288.68L337.23,288.38Z" fill="url(#g2)"/><path d="M838.62,828.60L845.23,826.80L337.23,288.38L330.62,288.92Z" fill="url(#g1)"/><path d="M832.00,830.40L838.62,828.60L330.62,288.92L324.00,290.30Z" fill="url(#g0)"/></g><path d="M832.3,1135.3L1626.0,921.0M832.3,1135.3L223.0,855.8M832.3,1135.3L849.5,1143.5M931.5,1108.5L948.7,1116.7M1030.7,1081.7L1047.9,1089.9M1129.9,1054.9L1147.1,1063.1M1229.2,1028.2L1246.4,1036.4M1328.4,1001.4L1345.6,1009.6M1427.6,974.6L1444.8,982.8M1526.8,947.8L1544.0,956.0M1626.0,921.0L1643.2,929.2M832.3,1135.3L815.3,1140.9M728.8,1087.8L711.8,1093.4M627.1,1041.2L610.1,1046.8M525.3,994.5L508.3,1000.1M423.6,947.8L406.6,953.4M321.8,901.1L304.8,906.7M223.0,838.4L206.0,831.9M223.0,741.7L206.0,735.2M223.0,645.0L206.0,638.5M223.0,548.4L206.0,541.9M223.0,451.7L206.0,445.2M223.0,355.1L206.0,348.6M223.0,258.4L206.0,251.9" fill="none" stroke="#2a2a2a" stroke-width="1.9"/><path d="M223.0,856.6L223.0,244.1" stroke="#7c7c7c" stroke-width="4" fill="none"/><g fill="#212121" font-family="'Liberation Sans', Arial, sans-serif"><text transform="translate(159.2,841.4) scale(1.160,1.040)" font-size="42" text-anchor="end">−</text><text transform="translate(185.5,841.4) scale(1.000,1.040)" font-size="42" text-anchor="end">6</text><text transform="translate(159.2,744.7) scale(1.160,1.040)" font-size="42" text-anchor="end">−</text><text transform="translate(185.5,744.7) scale(1.000,1.040)" font-size="42" text-anchor="end">4</text><text transform="translate(159.2,648.0) scale(1.160,1.040)" font-size="42" text-anchor="end">−</text><text transform="translate(185.5,648.0) scale(1.000,1.040)" font-size="42" text-anchor="end">2</text><text transform="translate(185.5,551.4) scale(1.000,1.040)" font-size="42" text-anchor="end">0</text><text transform="translate(185.5,454.7) scale(1.000,1.040)" font-size="42" text-anchor="end">2</text><text transform="translate(185.5,358.1) scale(1.000,1.040)" font-size="42" text-anchor="end">4</text><text transform="translate(185.5,261.4) scale(1.000,1.040)" font-size="42" text-anchor="end">6</text><text transform="translate(781.8,1190.8) scale(1.000,1.040)" font-size="42" text-anchor="middle">0</text><text transform="translate(669.8,1143.3) scale(1.000,1.040)" font-size="42" text-anchor="middle">10</text><text transform="translate(568.1,1096.7) scale(1.000,1.040)" font-size="42" text-anchor="middle">20</text><text transform="translate(466.3,1050.0) scale(1.000,1.040)" font-size="42" text-anchor="middle">30</text><text transform="translate(364.6,1003.3) scale(1.000,1.040)" font-size="42" text-anchor="middle">40</text><text transform="translate(262.8,956.6) scale(1.000,1.040)" font-size="42" text-anchor="middle">50</text><text transform="translate(850.3,1156.3) rotate(75.5) scale(1.000,1.040)" font-size="42">0</text><text transform="translate(949.5,1129.5) rotate(75.5) scale(1.000,1.040)" font-size="42">45</text><text transform="translate(1048.7,1102.7) rotate(75.5) scale(1.000,1.040)" font-size="42">90</text><text transform="translate(1147.9,1075.9) rotate(75.5) scale(1.000,1.040)" font-size="42">135</text><text transform="translate(1247.2,1049.2) rotate(75.5) scale(1.000,1.040)" font-size="42">180</text><text transform="translate(1346.4,1022.4) rotate(75.5) scale(1.000,1.040)" font-size="42">225</text><text transform="translate(1445.6,995.6) rotate(75.5) scale(1.000,1.040)" font-size="42">270</text><text transform="translate(1544.8,968.8) rotate(75.5) scale(1.000,1.040)" font-size="42">315</text><text transform="translate(1644.0,942.0) rotate(75.5) scale(1.000,1.040)" font-size="42">360</text><text transform="translate(62.0,1205.4) scale(1.000,1.050)" font-size="60.6">Error of Height / m</text><text transform="translate(1177.0,1250.0) scale(1.000,1.050)" font-size="60.6">Azimuth Angle / deg</text><text transform="translate(96.7,908.0) rotate(-90) scale(1.000,1.050)" font-size="60.6">Error of Correction / m·s</text><text transform="translate(69.7,255.9) rotate(-90) scale(1.130,1.050)" font-size="48">−</text><text transform="translate(66.2,220.5) rotate(-90) scale(0.880,1.050)" font-size="48">1</text></g></svg></body></html>
